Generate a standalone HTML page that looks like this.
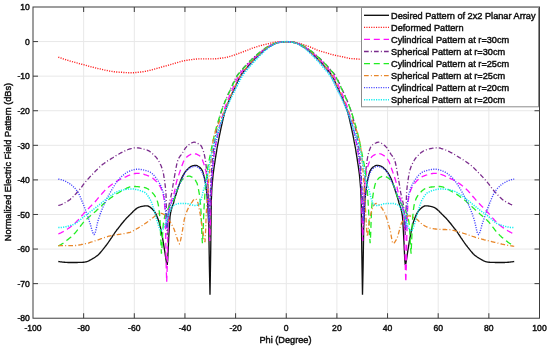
<!DOCTYPE html>
<html><head><meta charset="utf-8"><style>
html,body{margin:0;padding:0;background:#fff;}
svg{display:block;}
.g{stroke:#e8e8e8;stroke-width:1;}
.ax{stroke:#3c3c3c;stroke-width:1;fill:none;}
.tk{font-family:"Liberation Sans",Arial,sans-serif;font-size:8.6px;fill:#111;stroke:#111;stroke-width:0.45px;}
.tl{font-family:"Liberation Sans",Arial,sans-serif;font-weight:normal;font-size:9.2px;fill:#111;stroke:#111;stroke-width:0.45px;}
</style></head><body>
<svg width="550" height="349" viewBox="0 0 550 349">
<defs><clipPath id="c"><rect x="33.0" y="7.0" width="506.50" height="311.22"/></clipPath></defs>
<line x1="83.65" y1="7.0" x2="83.65" y2="318.22" class="g"/>
<line x1="134.30" y1="7.0" x2="134.30" y2="318.22" class="g"/>
<line x1="184.95" y1="7.0" x2="184.95" y2="318.22" class="g"/>
<line x1="235.60" y1="7.0" x2="235.60" y2="318.22" class="g"/>
<line x1="286.25" y1="7.0" x2="286.25" y2="318.22" class="g"/>
<line x1="336.90" y1="7.0" x2="336.90" y2="318.22" class="g"/>
<line x1="387.55" y1="7.0" x2="387.55" y2="318.22" class="g"/>
<line x1="438.20" y1="7.0" x2="438.20" y2="318.22" class="g"/>
<line x1="488.85" y1="7.0" x2="488.85" y2="318.22" class="g"/>
<line x1="33.0" y1="41.58" x2="539.50" y2="41.58" class="g"/>
<line x1="33.0" y1="76.16" x2="539.50" y2="76.16" class="g"/>
<line x1="33.0" y1="110.74" x2="539.50" y2="110.74" class="g"/>
<line x1="33.0" y1="145.32" x2="539.50" y2="145.32" class="g"/>
<line x1="33.0" y1="179.90" x2="539.50" y2="179.90" class="g"/>
<line x1="33.0" y1="214.48" x2="539.50" y2="214.48" class="g"/>
<line x1="33.0" y1="249.06" x2="539.50" y2="249.06" class="g"/>
<line x1="33.0" y1="283.64" x2="539.50" y2="283.64" class="g"/>
<path d="M58.3,261.5 L59.0,261.6 L59.6,261.7 L60.2,261.8 L60.9,261.8 L61.5,261.9 L62.1,262.0 L62.8,262.1 L63.4,262.1 L64.0,262.2 L64.7,262.2 L65.3,262.3 L65.9,262.3 L66.6,262.4 L67.2,262.4 L67.8,262.5 L68.5,262.5 L69.1,262.5 L69.7,262.5 L70.4,262.5 L71.0,262.5 L71.6,262.5 L72.3,262.5 L72.9,262.5 L73.5,262.5 L74.2,262.5 L74.8,262.5 L75.4,262.5 L76.1,262.5 L76.7,262.5 L77.3,262.5 L78.0,262.4 L78.6,262.4 L79.2,262.4 L79.9,262.4 L80.5,262.3 L81.1,262.3 L81.8,262.3 L82.4,262.3 L83.0,262.2 L83.7,262.2 L84.3,262.1 L84.9,262.1 L85.5,261.9 L86.2,261.8 L86.8,261.6 L87.4,261.4 L88.1,261.1 L88.7,260.8 L89.3,260.6 L90.0,260.2 L90.6,259.9 L91.2,259.5 L91.9,259.2 L92.5,258.8 L93.1,258.4 L93.8,258.0 L94.4,257.6 L95.0,257.2 L95.7,256.7 L96.3,256.3 L96.9,255.9 L97.5,255.4 L98.1,254.9 L98.7,254.3 L99.4,253.7 L100.0,253.0 L100.6,252.3 L101.2,251.6 L101.8,250.9 L102.4,250.1 L103.0,249.4 L103.6,248.6 L104.2,247.8 L104.8,247.1 L105.4,246.3 L106.1,245.5 L106.7,244.7 L107.3,243.8 L108.0,242.9 L108.6,242.0 L109.2,241.1 L109.9,240.2 L110.5,239.2 L111.1,238.3 L111.8,237.3 L112.4,236.3 L113.0,235.4 L113.7,234.5 L114.3,233.5 L114.9,232.6 L115.6,231.7 L116.2,230.9 L116.8,230.0 L117.4,229.2 L118.1,228.5 L118.7,227.7 L119.3,226.9 L119.9,226.1 L120.5,225.3 L121.1,224.5 L121.7,223.8 L122.3,223.0 L123.0,222.3 L123.6,221.5 L124.2,220.8 L124.8,220.1 L125.4,219.4 L126.0,218.7 L126.6,218.1 L127.2,217.4 L127.9,216.8 L128.5,216.2 L129.1,215.6 L129.7,214.9 L130.4,214.3 L131.0,213.7 L131.6,213.0 L132.3,212.4 L132.9,211.7 L133.5,211.1 L134.2,210.5 L134.8,209.9 L135.4,209.4 L136.1,208.9 L136.7,208.4 L137.3,208.0 L138.0,207.6 L138.6,207.3 L139.2,207.1 L139.9,206.9 L140.5,206.7 L141.1,206.6 L141.7,206.4 L142.4,206.3 L143.0,206.2 L143.6,206.1 L144.2,206.0 L144.8,205.9 L145.5,205.9 L146.1,205.8 L146.7,205.8 L147.3,205.9 L148.0,206.0 L148.6,206.3 L149.2,206.6 L149.8,207.0 L150.4,207.4 L151.1,208.0 L151.7,208.5 L152.3,209.1 L152.9,209.7 L153.5,210.3 L154.2,211.1 L154.8,212.0 L155.4,213.1 L156.1,214.4 L156.7,215.8 L157.3,217.3 L158.0,219.0 L158.6,220.7 L159.2,222.4 L159.7,224.5 L160.3,226.8 L160.8,229.2 L161.4,231.9 L161.9,234.5 L162.5,237.5 L163.0,240.7 L163.6,244.1 L164.1,247.5 L164.7,250.8 L165.3,255.0 L166.0,259.7 L166.6,263.4 L167.2,265.0 L167.7,260.1 L168.2,249.4 L168.7,238.7 L169.4,226.0 L170.0,216.6 L170.6,212.9 L171.2,210.2 L171.8,208.1 L172.4,206.3 L173.0,204.6 L173.6,202.7 L174.1,200.6 L174.7,198.6 L175.3,196.6 L175.9,194.7 L176.5,192.8 L177.1,191.0 L177.7,189.0 L178.4,187.1 L179.0,185.2 L179.6,183.4 L180.3,181.6 L180.9,180.0 L181.5,178.5 L182.2,177.1 L182.8,175.9 L183.4,174.8 L184.1,173.7 L184.7,172.7 L185.3,171.8 L186.0,171.0 L186.6,170.2 L187.2,169.5 L187.8,169.0 L188.4,168.4 L188.9,167.9 L189.5,167.4 L190.1,167.0 L190.6,166.6 L191.2,166.3 L191.8,166.1 L192.4,165.9 L193.1,165.7 L193.7,165.6 L194.3,165.5 L195.0,165.4 L195.6,165.4 L196.2,165.4 L196.9,165.6 L197.5,165.9 L198.1,166.3 L198.8,166.7 L199.4,167.1 L200.0,167.6 L200.6,168.2 L201.2,168.9 L201.8,169.8 L202.4,170.9 L202.9,172.2 L203.4,173.9 L203.9,175.9 L204.5,178.2 L205.0,180.6 L205.5,183.4 L206.0,186.6 L206.5,190.3 L207.1,196.0 L207.7,204.1 L208.2,214.0 L208.8,228.3 L209.4,266.6 L210.0,294.7 L210.7,251.9 L211.3,200.6 L211.9,187.7 L212.6,179.9 L213.1,174.5 L213.7,170.1 L214.2,166.3 L214.8,162.7 L215.3,159.2 L215.9,155.4 L216.5,151.9 L217.0,148.5 L217.6,145.3 L218.3,141.9 L218.9,138.5 L219.5,135.3 L220.2,132.2 L220.8,129.2 L221.4,126.3 L222.1,123.4 L222.7,120.6 L223.3,117.9 L224.0,115.3 L224.6,112.9 L225.2,110.7 L225.8,109.0 L226.4,107.4 L226.9,105.9 L227.5,104.4 L228.1,103.0 L228.6,101.7 L229.2,100.3 L229.8,99.0 L230.4,97.5 L231.0,96.1 L231.6,94.7 L232.2,93.3 L232.9,92.0 L233.5,90.6 L234.1,89.3 L234.7,87.9 L235.3,86.6 L235.9,85.2 L236.6,83.8 L237.2,82.4 L237.8,81.0 L238.4,79.7 L239.1,78.4 L239.7,77.3 L240.3,76.1 L240.9,75.1 L241.5,74.2 L242.1,73.3 L242.8,72.5 L243.4,71.8 L244.0,71.0 L244.6,70.3 L245.2,69.6 L245.8,68.8 L246.5,68.1 L247.1,67.4 L247.7,66.6 L248.4,65.9 L249.0,65.2 L249.6,64.5 L250.2,63.7 L250.9,63.0 L251.5,62.4 L252.1,61.7 L252.7,61.0 L253.4,60.3 L254.0,59.7 L254.6,59.1 L255.2,58.4 L255.9,57.8 L256.5,57.2 L257.1,56.6 L257.8,56.0 L258.4,55.4 L259.0,54.8 L259.7,54.2 L260.3,53.6 L260.9,53.0 L261.6,52.5 L262.2,51.9 L262.8,51.4 L263.5,50.8 L264.1,50.3 L264.7,49.8 L265.4,49.3 L266.0,48.8 L266.6,48.4 L267.3,47.9 L267.9,47.5 L268.5,47.1 L269.2,46.7 L269.8,46.3 L270.4,46.0 L271.1,45.6 L271.7,45.2 L272.3,44.9 L273.0,44.5 L273.6,44.2 L274.2,43.9 L274.9,43.6 L275.5,43.4 L276.1,43.1 L276.8,42.9 L277.4,42.8 L278.0,42.7 L278.7,42.5 L279.3,42.4 L279.9,42.3 L280.6,42.2 L281.2,42.0 L281.8,41.9 L282.5,41.9 L283.1,41.8 L283.7,41.7 L284.4,41.7 L285.0,41.6 L285.6,41.6 L286.2,41.6 L286.9,41.6 L287.5,41.6 L288.1,41.7 L288.8,41.7 L289.4,41.8 L290.0,41.9 L290.7,41.9 L291.3,42.0 L291.9,42.2 L292.6,42.3 L293.2,42.4 L293.8,42.5 L294.5,42.7 L295.1,42.8 L295.7,42.9 L296.4,43.1 L297.0,43.4 L297.6,43.6 L298.3,43.9 L298.9,44.2 L299.5,44.5 L300.2,44.9 L300.8,45.2 L301.4,45.6 L302.1,46.0 L302.7,46.3 L303.3,46.7 L304.0,47.1 L304.6,47.5 L305.2,47.9 L305.9,48.4 L306.5,48.8 L307.1,49.3 L307.8,49.8 L308.4,50.3 L309.0,50.8 L309.7,51.4 L310.3,51.9 L310.9,52.5 L311.6,53.0 L312.2,53.6 L312.8,54.2 L313.5,54.8 L314.1,55.4 L314.7,56.0 L315.4,56.6 L316.0,57.2 L316.6,57.8 L317.3,58.4 L317.9,59.1 L318.5,59.7 L319.1,60.3 L319.8,61.0 L320.4,61.7 L321.0,62.4 L321.6,63.0 L322.3,63.7 L322.9,64.5 L323.5,65.2 L324.1,65.9 L324.8,66.6 L325.4,67.4 L326.0,68.1 L326.7,68.8 L327.3,69.6 L327.9,70.3 L328.5,71.0 L329.1,71.8 L329.7,72.5 L330.4,73.3 L331.0,74.2 L331.6,75.1 L332.2,76.1 L332.8,77.3 L333.4,78.4 L334.1,79.7 L334.7,81.0 L335.3,82.4 L335.9,83.8 L336.6,85.2 L337.2,86.6 L337.8,87.9 L338.4,89.3 L339.0,90.6 L339.6,92.0 L340.3,93.3 L340.9,94.7 L341.5,96.1 L342.1,97.5 L342.7,99.0 L343.3,100.3 L343.9,101.7 L344.4,103.0 L345.0,104.4 L345.6,105.9 L346.1,107.4 L346.7,109.0 L347.3,110.7 L347.9,112.9 L348.5,115.3 L349.2,117.9 L349.8,120.6 L350.4,123.4 L351.1,126.3 L351.7,129.2 L352.3,132.2 L353.0,135.3 L353.6,138.5 L354.2,141.9 L354.9,145.3 L355.5,148.5 L356.0,151.9 L356.6,155.4 L357.2,159.2 L357.7,162.7 L358.3,166.3 L358.8,170.1 L359.4,174.5 L359.9,179.9 L360.6,187.7 L361.2,200.6 L361.8,251.9 L362.5,294.7 L363.1,266.6 L363.7,228.3 L364.3,214.0 L364.8,204.1 L365.4,196.0 L366.0,190.3 L366.5,186.6 L367.0,183.4 L367.5,180.6 L368.0,178.2 L368.6,175.9 L369.1,173.9 L369.6,172.2 L370.1,170.9 L370.7,169.8 L371.3,168.9 L371.9,168.2 L372.5,167.6 L373.1,167.1 L373.7,166.7 L374.4,166.3 L375.0,165.9 L375.6,165.6 L376.3,165.4 L376.9,165.4 L377.5,165.4 L378.2,165.5 L378.8,165.6 L379.4,165.7 L380.1,165.9 L380.7,166.1 L381.3,166.3 L381.9,166.6 L382.4,167.0 L383.0,167.4 L383.6,167.9 L384.1,168.4 L384.7,169.0 L385.3,169.5 L385.9,170.2 L386.5,171.0 L387.2,171.8 L387.8,172.7 L388.4,173.7 L389.1,174.8 L389.7,175.9 L390.3,177.1 L391.0,178.5 L391.6,180.0 L392.2,181.6 L392.9,183.4 L393.5,185.2 L394.1,187.1 L394.8,189.0 L395.4,191.0 L396.0,192.8 L396.6,194.7 L397.2,196.6 L397.8,198.6 L398.4,200.6 L398.9,202.7 L399.5,204.6 L400.1,206.3 L400.7,208.1 L401.3,210.2 L401.9,212.9 L402.5,216.6 L403.1,226.0 L403.8,238.7 L404.3,249.4 L404.8,260.1 L405.3,265.0 L405.9,263.4 L406.5,259.7 L407.2,255.0 L407.8,250.8 L408.4,247.5 L408.9,244.1 L409.5,240.7 L410.0,237.5 L410.6,234.5 L411.1,231.9 L411.7,229.2 L412.2,226.8 L412.8,224.5 L413.3,222.4 L413.9,220.7 L414.5,219.0 L415.2,217.3 L415.8,215.8 L416.4,214.4 L417.1,213.1 L417.7,212.0 L418.3,211.1 L419.0,210.3 L419.6,209.7 L420.2,209.1 L420.8,208.5 L421.4,208.0 L422.1,207.4 L422.7,207.0 L423.3,206.6 L423.9,206.3 L424.5,206.0 L425.2,205.9 L425.8,205.8 L426.4,205.8 L427.0,205.9 L427.7,205.9 L428.3,206.0 L428.9,206.1 L429.5,206.2 L430.1,206.3 L430.8,206.4 L431.4,206.6 L432.0,206.7 L432.6,206.9 L433.3,207.1 L433.9,207.3 L434.5,207.6 L435.2,208.0 L435.8,208.4 L436.4,208.9 L437.1,209.4 L437.7,209.9 L438.3,210.5 L439.0,211.1 L439.6,211.7 L440.2,212.4 L440.9,213.0 L441.5,213.7 L442.1,214.3 L442.8,214.9 L443.4,215.6 L444.0,216.2 L444.6,216.8 L445.3,217.4 L445.9,218.1 L446.5,218.7 L447.1,219.4 L447.7,220.1 L448.3,220.8 L448.9,221.5 L449.5,222.3 L450.2,223.0 L450.8,223.8 L451.4,224.5 L452.0,225.3 L452.6,226.1 L453.2,226.9 L453.8,227.7 L454.4,228.5 L455.1,229.2 L455.7,230.0 L456.3,230.9 L456.9,231.7 L457.6,232.6 L458.2,233.5 L458.8,234.5 L459.5,235.4 L460.1,236.3 L460.7,237.3 L461.4,238.3 L462.0,239.2 L462.6,240.2 L463.3,241.1 L463.9,242.0 L464.5,242.9 L465.2,243.8 L465.8,244.7 L466.4,245.5 L467.1,246.3 L467.7,247.1 L468.3,247.8 L468.9,248.6 L469.5,249.4 L470.1,250.1 L470.7,250.9 L471.3,251.6 L471.9,252.3 L472.5,253.0 L473.1,253.7 L473.8,254.3 L474.4,254.9 L475.0,255.4 L475.6,255.9 L476.2,256.3 L476.8,256.7 L477.5,257.2 L478.1,257.6 L478.7,258.0 L479.4,258.4 L480.0,258.8 L480.6,259.2 L481.3,259.5 L481.9,259.9 L482.5,260.2 L483.2,260.6 L483.8,260.8 L484.4,261.1 L485.1,261.4 L485.7,261.6 L486.3,261.8 L487.0,261.9 L487.6,262.1 L488.2,262.1 L488.9,262.2 L489.5,262.2 L490.1,262.3 L490.7,262.3 L491.4,262.3 L492.0,262.3 L492.6,262.4 L493.3,262.4 L493.9,262.4 L494.5,262.4 L495.2,262.5 L495.8,262.5 L496.4,262.5 L497.1,262.5 L497.7,262.5 L498.3,262.5 L499.0,262.5 L499.6,262.5 L500.2,262.5 L500.9,262.5 L501.5,262.5 L502.1,262.5 L502.8,262.5 L503.4,262.5 L504.0,262.5 L504.7,262.5 L505.3,262.4 L505.9,262.4 L506.6,262.3 L507.2,262.3 L507.8,262.2 L508.5,262.2 L509.1,262.1 L509.7,262.1 L510.4,262.0 L511.0,261.9 L511.6,261.8 L512.3,261.8 L512.9,261.7 L513.5,261.6 L514.2,261.5" fill="none" stroke="#111111" stroke-width="1.35" clip-path="url(#c)"/>
<path d="M58.3,57.1 L58.9,57.4 L59.5,57.6 L60.1,57.8 L60.8,58.0 L61.4,58.2 L62.0,58.4 L62.6,58.7 L63.2,58.9 L63.8,59.1 L64.4,59.3 L65.0,59.5 L65.6,59.7 L66.2,59.9 L66.8,60.1 L67.4,60.3 L68.1,60.4 L68.7,60.6 L69.3,60.8 L69.9,61.0 L70.6,61.2 L71.2,61.4 L71.8,61.5 L72.4,61.7 L73.1,61.9 L73.7,62.1 L74.3,62.2 L74.9,62.4 L75.5,62.6 L76.2,62.8 L76.8,62.9 L77.4,63.1 L78.0,63.3 L78.7,63.4 L79.3,63.6 L79.9,63.8 L80.5,63.9 L81.2,64.1 L81.8,64.2 L82.4,64.4 L83.0,64.6 L83.7,64.7 L84.3,64.9 L84.9,65.1 L85.5,65.2 L86.1,65.4 L86.7,65.6 L87.3,65.8 L87.9,65.9 L88.6,66.1 L89.2,66.3 L89.8,66.4 L90.4,66.6 L91.0,66.8 L91.6,66.9 L92.2,67.1 L92.9,67.3 L93.5,67.4 L94.1,67.6 L94.7,67.7 L95.3,67.9 L95.9,68.0 L96.5,68.2 L97.2,68.3 L97.8,68.5 L98.4,68.6 L99.0,68.8 L99.6,68.9 L100.2,69.0 L100.8,69.2 L101.4,69.3 L102.1,69.4 L102.7,69.6 L103.3,69.7 L103.9,69.8 L104.5,70.0 L105.1,70.1 L105.8,70.2 L106.4,70.4 L107.0,70.5 L107.6,70.6 L108.2,70.8 L108.8,70.9 L109.4,71.0 L110.1,71.1 L110.7,71.2 L111.3,71.3 L111.9,71.4 L112.5,71.5 L113.1,71.6 L113.8,71.7 L114.4,71.8 L115.0,71.8 L115.6,71.9 L116.2,72.0 L116.8,72.0 L117.4,72.1 L118.0,72.1 L118.7,72.1 L119.3,72.2 L119.9,72.2 L120.5,72.3 L121.1,72.3 L121.7,72.3 L122.3,72.4 L122.9,72.4 L123.6,72.5 L124.2,72.5 L124.8,72.5 L125.4,72.6 L126.0,72.6 L126.6,72.6 L127.2,72.6 L127.8,72.6 L128.5,72.7 L129.1,72.7 L129.7,72.7 L130.3,72.7 L130.9,72.7 L131.5,72.7 L132.1,72.7 L132.7,72.7 L133.4,72.7 L134.0,72.6 L134.6,72.6 L135.2,72.6 L135.8,72.5 L136.4,72.5 L137.0,72.4 L137.6,72.3 L138.3,72.3 L138.9,72.2 L139.5,72.1 L140.1,72.1 L140.7,72.0 L141.3,71.9 L141.9,71.8 L142.6,71.7 L143.2,71.7 L143.8,71.6 L144.4,71.5 L145.0,71.4 L145.7,71.3 L146.3,71.1 L146.9,71.0 L147.6,70.9 L148.2,70.7 L148.8,70.6 L149.4,70.4 L150.1,70.3 L150.7,70.1 L151.3,69.9 L152.0,69.8 L152.6,69.6 L153.2,69.4 L153.8,69.2 L154.5,69.1 L155.1,68.9 L155.7,68.7 L156.3,68.5 L157.0,68.4 L157.6,68.2 L158.2,68.0 L158.8,67.9 L159.4,67.7 L160.0,67.6 L160.7,67.4 L161.3,67.2 L161.9,67.0 L162.5,66.9 L163.1,66.7 L163.7,66.5 L164.3,66.3 L164.9,66.2 L165.6,66.0 L166.2,65.8 L166.8,65.6 L167.4,65.4 L168.0,65.3 L168.6,65.1 L169.2,64.9 L169.8,64.7 L170.5,64.6 L171.1,64.4 L171.7,64.2 L172.3,64.1 L172.9,63.9 L173.5,63.7 L174.2,63.5 L174.8,63.3 L175.4,63.1 L176.1,63.0 L176.7,62.8 L177.3,62.6 L177.9,62.4 L178.6,62.2 L179.2,62.0 L179.8,61.8 L180.4,61.6 L181.1,61.5 L181.7,61.3 L182.3,61.1 L183.0,61.0 L183.6,60.8 L184.2,60.7 L184.8,60.6 L185.5,60.5 L186.1,60.3 L186.7,60.3 L187.4,60.2 L188.0,60.1 L188.6,60.0 L189.2,59.9 L189.9,59.8 L190.5,59.7 L191.1,59.6 L191.7,59.6 L192.4,59.5 L193.0,59.4 L193.6,59.3 L194.3,59.3 L194.9,59.2 L195.5,59.2 L196.1,59.1 L196.8,59.0 L197.4,59.0 L198.0,59.0 L198.6,58.9 L199.3,58.9 L199.9,58.9 L200.5,58.9 L201.2,58.9 L201.8,58.9 L202.4,58.9 L203.0,58.9 L203.6,58.9 L204.2,58.9 L204.8,58.9 L205.4,58.9 L206.1,58.9 L206.7,58.9 L207.3,58.9 L207.9,58.9 L208.5,58.9 L209.1,58.9 L209.7,58.9 L210.4,58.9 L211.0,58.9 L211.6,58.9 L212.2,58.9 L212.8,58.9 L213.4,58.9 L214.0,58.9 L214.7,58.8 L215.3,58.8 L215.9,58.8 L216.5,58.7 L217.1,58.7 L217.7,58.6 L218.3,58.5 L219.0,58.5 L219.6,58.4 L220.2,58.3 L220.8,58.2 L221.4,58.2 L222.0,58.1 L222.6,58.0 L223.3,57.9 L223.9,57.8 L224.5,57.7 L225.1,57.6 L225.7,57.5 L226.3,57.4 L226.9,57.3 L227.6,57.1 L228.2,57.0 L228.8,56.8 L229.4,56.6 L230.0,56.4 L230.6,56.3 L231.2,56.1 L231.8,55.9 L232.4,55.6 L233.1,55.4 L233.7,55.2 L234.3,55.0 L234.9,54.8 L235.5,54.6 L236.1,54.4 L236.7,54.2 L237.4,53.9 L238.0,53.7 L238.6,53.5 L239.3,53.2 L239.9,53.0 L240.5,52.8 L241.2,52.5 L241.8,52.3 L242.4,52.0 L243.1,51.8 L243.7,51.5 L244.3,51.3 L245.0,51.0 L245.6,50.8 L246.2,50.6 L246.8,50.3 L247.5,50.1 L248.1,49.9 L248.7,49.6 L249.3,49.4 L249.9,49.2 L250.5,48.9 L251.1,48.7 L251.7,48.5 L252.3,48.2 L253.0,48.0 L253.6,47.8 L254.2,47.6 L254.8,47.4 L255.4,47.2 L256.0,47.0 L256.6,46.8 L257.2,46.6 L257.8,46.4 L258.5,46.2 L259.1,46.0 L259.7,45.9 L260.3,45.7 L260.9,45.5 L261.5,45.4 L262.1,45.2 L262.7,45.0 L263.3,44.9 L263.9,44.7 L264.6,44.6 L265.2,44.4 L265.8,44.3 L266.4,44.1 L267.0,44.0 L267.6,43.9 L268.2,43.7 L268.8,43.6 L269.4,43.4 L270.1,43.3 L270.7,43.1 L271.3,43.0 L271.9,42.8 L272.5,42.7 L273.1,42.5 L273.7,42.4 L274.3,42.3 L274.9,42.2 L275.6,42.1 L276.2,42.0 L276.8,42.0 L277.4,41.9 L278.0,41.9 L278.7,41.8 L279.3,41.8 L279.9,41.8 L280.6,41.7 L281.2,41.7 L281.8,41.7 L282.5,41.7 L283.1,41.6 L283.7,41.6 L284.4,41.6 L285.0,41.6 L285.6,41.6 L286.2,41.6 L286.9,41.6 L287.5,41.6 L288.1,41.6 L288.7,41.6 L289.4,41.7 L290.0,41.7 L290.6,41.7 L291.2,41.8 L291.8,41.8 L292.5,41.9 L293.1,41.9 L293.7,42.0 L294.3,42.1 L295.0,42.2 L295.6,42.3 L296.2,42.5 L296.8,42.7 L297.5,42.8 L298.1,43.0 L298.7,43.2 L299.3,43.4 L299.9,43.6 L300.6,43.8 L301.2,44.0 L301.8,44.2 L302.4,44.4 L303.0,44.5 L303.6,44.7 L304.2,44.9 L304.8,45.1 L305.4,45.3 L306.0,45.5 L306.6,45.7 L307.2,45.9 L307.8,46.1 L308.4,46.3 L309.0,46.5 L309.5,46.8 L310.2,47.0 L310.8,47.3 L311.4,47.5 L312.0,47.8 L312.7,48.1 L313.3,48.4 L313.9,48.7 L314.5,48.9 L315.2,49.2 L315.8,49.5 L316.4,49.8 L317.0,50.0 L317.7,50.2 L318.3,50.4 L318.9,50.6 L319.5,50.8 L320.1,51.0 L320.8,51.2 L321.4,51.4 L322.0,51.6 L322.6,51.8 L323.3,51.9 L323.9,52.1 L324.5,52.3 L325.1,52.5 L325.8,52.6 L326.4,52.8 L327.0,53.0 L327.5,53.2 L328.1,53.4 L328.7,53.5 L329.3,53.7 L329.9,53.9 L330.5,54.1 L331.1,54.3 L331.7,54.4 L332.3,54.6 L332.9,54.8 L333.5,54.9 L334.1,55.1 L334.7,55.2 L335.4,55.4 L336.0,55.5 L336.6,55.6 L337.2,55.8 L337.9,55.9 L338.5,56.0 L339.1,56.2 L339.7,56.3 L340.3,56.4 L341.0,56.5 L341.6,56.7 L342.2,56.8 L342.8,56.9 L343.4,57.1 L344.0,57.2 L344.6,57.3 L345.2,57.5 L345.8,57.6 L346.4,57.8 L347.0,57.9 L347.6,58.0 L348.2,58.2 L348.8,58.3 L349.4,58.4 L350.0,58.5 L350.6,58.5 L351.2,58.6 L351.8,58.6 L352.4,58.7 L353.0,58.8 L353.6,58.8 L354.2,58.8 L354.8,58.9 L355.4,58.9 L356.0,59.0 L356.6,59.0 L357.2,59.0 L357.8,59.1 L358.4,59.1 L359.0,59.1 L359.6,59.2 L360.2,59.2 L360.8,59.3 L361.4,59.3 L362.0,59.3 L362.6,59.4 L363.3,59.4 L363.9,59.4 L364.5,59.5 L365.1,59.5 L365.7,59.5 L366.3,59.5 L366.9,59.6 L367.5,59.6 L368.2,59.6 L368.8,59.7 L369.4,59.7 L370.0,59.7 L370.6,59.7 L371.2,59.8 L371.8,59.8 L372.4,59.8 L373.1,59.8 L373.7,59.9 L374.3,59.9 L374.9,59.9" fill="none" stroke="#ff1a1a" stroke-width="1.4" stroke-dasharray="1.1 1.3" clip-path="url(#c)"/>
<path d="M58.3,233.8 L59.0,233.6 L59.6,233.4 L60.2,233.1 L60.9,232.8 L61.5,232.5 L62.1,232.2 L62.8,231.9 L63.4,231.5 L64.0,231.2 L64.7,230.8 L65.3,230.4 L65.9,230.0 L66.6,229.6 L67.2,229.2 L67.8,228.8 L68.5,228.3 L69.1,227.9 L69.7,227.4 L70.4,227.0 L71.0,226.5 L71.6,226.0 L72.3,225.5 L72.9,225.0 L73.5,224.5 L74.1,224.0 L74.7,223.5 L75.3,222.9 L75.9,222.3 L76.5,221.7 L77.1,221.0 L77.8,220.4 L78.4,219.7 L79.0,219.0 L79.6,218.3 L80.2,217.6 L80.8,216.9 L81.4,216.2 L82.0,215.5 L82.6,214.8 L83.2,214.1 L83.8,213.4 L84.4,212.8 L85.0,212.1 L85.7,211.4 L86.3,210.8 L86.9,210.1 L87.5,209.5 L88.2,208.8 L88.8,208.2 L89.4,207.5 L90.0,206.9 L90.7,206.2 L91.3,205.6 L91.9,205.0 L92.6,204.3 L93.2,203.6 L93.8,203.0 L94.4,202.3 L95.1,201.7 L95.7,201.0 L96.3,200.3 L96.9,199.6 L97.5,198.9 L98.1,198.2 L98.7,197.5 L99.4,196.8 L100.0,196.0 L100.6,195.3 L101.2,194.6 L101.8,193.9 L102.4,193.2 L103.0,192.5 L103.6,191.8 L104.2,191.1 L104.8,190.5 L105.4,189.9 L106.1,189.3 L106.7,188.8 L107.3,188.2 L108.0,187.6 L108.6,187.1 L109.2,186.6 L109.9,186.0 L110.5,185.6 L111.1,185.1 L111.8,184.6 L112.4,184.1 L113.0,183.7 L113.6,183.3 L114.2,182.9 L114.8,182.5 L115.4,182.1 L116.0,181.8 L116.6,181.4 L117.2,181.0 L117.8,180.7 L118.4,180.4 L119.0,180.0 L119.6,179.7 L120.2,179.4 L120.8,179.1 L121.4,178.9 L122.0,178.6 L122.6,178.3 L123.2,178.0 L123.8,177.7 L124.5,177.4 L125.1,177.1 L125.7,176.9 L126.3,176.6 L126.9,176.3 L127.5,176.0 L128.1,175.7 L128.7,175.5 L129.4,175.2 L130.0,175.0 L130.6,174.7 L131.2,174.5 L131.8,174.3 L132.4,174.1 L133.0,173.9 L133.7,173.8 L134.3,173.7 L134.9,173.5 L135.5,173.5 L136.1,173.4 L136.7,173.3 L137.3,173.3 L138.0,173.3 L138.6,173.4 L139.2,173.4 L139.8,173.5 L140.4,173.6 L141.0,173.7 L141.6,173.8 L142.2,173.9 L142.9,174.1 L143.5,174.2 L144.1,174.4 L144.7,174.6 L145.3,174.8 L145.9,175.0 L146.5,175.2 L147.1,175.4 L147.8,175.6 L148.4,175.9 L149.0,176.1 L149.6,176.3 L150.2,176.6 L150.8,177.0 L151.4,177.3 L152.0,177.7 L152.6,178.1 L153.2,178.6 L153.9,179.1 L154.5,179.7 L155.1,180.3 L155.7,180.9 L156.3,181.5 L156.9,182.2 L157.5,182.9 L158.1,183.7 L158.7,184.5 L159.3,185.4 L160.0,186.3 L160.6,187.4 L161.2,188.7 L161.8,190.3 L162.4,192.1 L163.1,194.3 L163.7,196.8 L164.2,200.4 L164.7,206.3 L165.2,214.5 L165.7,236.1 L166.2,266.5 L166.7,281.9 L167.2,267.6 L167.7,239.9 L168.2,221.4 L168.8,215.3 L169.3,210.8 L169.9,207.4 L170.5,204.8 L171.0,202.4 L171.6,200.3 L172.1,198.6 L172.7,197.2 L173.2,195.7 L173.8,194.2 L174.3,192.3 L174.9,189.9 L175.5,187.0 L176.0,184.1 L176.6,181.6 L177.1,179.9 L177.6,178.3 L178.1,176.9 L178.6,175.4 L179.2,173.6 L179.8,171.9 L180.4,170.2 L181.0,168.5 L181.6,166.8 L182.2,165.0 L182.8,163.4 L183.3,162.0 L183.9,160.9 L184.5,160.0 L185.1,159.1 L185.7,158.3 L186.3,157.6 L186.8,157.0 L187.4,156.5 L188.0,156.0 L188.6,155.6 L189.2,155.2 L189.8,154.9 L190.5,154.5 L191.1,154.2 L191.7,154.0 L192.3,153.8 L192.9,153.7 L193.6,153.6 L194.2,153.6 L194.8,153.7 L195.4,153.9 L196.0,154.0 L196.7,154.2 L197.3,154.5 L197.9,154.8 L198.5,155.2 L199.2,155.5 L199.8,155.9 L200.4,156.4 L201.0,157.1 L201.7,158.2 L202.3,159.6 L202.9,161.3 L203.6,163.1 L204.2,165.0 L204.8,166.8 L205.3,168.9 L205.9,171.3 L206.4,174.2 L207.0,177.8 L207.5,182.3 L208.0,188.7 L208.5,197.2 L209.1,222.1 L209.8,241.1 L210.4,221.0 L211.0,193.7 L211.6,182.0 L212.2,173.0 L212.8,166.1 L213.4,160.7 L213.9,156.1 L214.5,152.1 L215.0,148.5 L215.6,145.3 L216.2,142.1 L216.8,139.0 L217.4,136.0 L218.0,133.2 L218.6,130.6 L219.2,128.0 L219.8,125.6 L220.4,123.2 L221.0,121.0 L221.6,118.8 L222.2,116.7 L222.8,114.7 L223.4,112.7 L224.0,110.7 L224.6,108.8 L225.2,107.0 L225.8,105.3 L226.4,103.7 L227.0,102.1 L227.7,100.5 L228.3,99.0 L228.9,97.5 L229.4,96.1 L230.0,94.7 L230.6,93.3 L231.2,92.0 L231.8,90.6 L232.4,89.3 L233.0,87.9 L233.6,86.5 L234.2,85.1 L234.8,83.7 L235.4,82.3 L236.0,81.0 L236.6,79.7 L237.3,78.4 L237.9,77.2 L238.5,76.1 L239.1,75.1 L239.7,74.2 L240.3,73.3 L240.9,72.5 L241.6,71.8 L242.2,71.0 L242.8,70.3 L243.4,69.6 L244.0,68.9 L244.6,68.2 L245.2,67.5 L245.9,66.8 L246.5,66.1 L247.1,65.4 L247.7,64.7 L248.3,64.0 L248.9,63.4 L249.5,62.7 L250.1,62.1 L250.7,61.4 L251.3,60.8 L251.9,60.2 L252.5,59.6 L253.1,59.0 L253.7,58.4 L254.3,57.8 L254.9,57.3 L255.5,56.7 L256.2,56.2 L256.8,55.6 L257.4,55.1 L258.0,54.5 L258.6,54.0 L259.2,53.4 L259.8,52.9 L260.4,52.4 L261.0,51.9 L261.6,51.4 L262.2,50.9 L262.8,50.4 L263.4,50.0 L264.0,49.5 L264.6,49.1 L265.2,48.7 L265.8,48.2 L266.4,47.8 L267.0,47.5 L267.6,47.1 L268.3,46.8 L268.9,46.4 L269.5,46.0 L270.1,45.7 L270.7,45.3 L271.4,45.0 L272.0,44.7 L272.6,44.4 L273.2,44.1 L273.8,43.8 L274.5,43.5 L275.1,43.3 L275.7,43.1 L276.3,42.9 L276.9,42.8 L277.6,42.7 L278.2,42.5 L278.8,42.4 L279.4,42.3 L280.0,42.2 L280.7,42.1 L281.3,42.0 L281.9,41.9 L282.5,41.8 L283.1,41.8 L283.8,41.7 L284.4,41.6 L285.0,41.6 L285.6,41.6 L286.2,41.6 L286.9,41.6 L287.5,41.6 L288.1,41.6 L288.7,41.7 L289.4,41.8 L290.0,41.8 L290.6,41.9 L291.2,42.0 L291.8,42.1 L292.5,42.2 L293.1,42.3 L293.7,42.4 L294.3,42.5 L294.9,42.7 L295.6,42.8 L296.2,42.9 L296.8,43.1 L297.4,43.3 L298.0,43.5 L298.7,43.8 L299.3,44.1 L299.9,44.4 L300.5,44.7 L301.1,45.0 L301.8,45.3 L302.4,45.7 L303.0,46.0 L303.6,46.4 L304.2,46.8 L304.9,47.1 L305.5,47.5 L306.1,47.8 L306.7,48.2 L307.3,48.7 L307.9,49.1 L308.5,49.5 L309.1,50.0 L309.7,50.4 L310.3,50.9 L310.9,51.4 L311.5,51.9 L312.1,52.4 L312.7,52.9 L313.3,53.4 L313.9,54.0 L314.5,54.5 L315.1,55.1 L315.7,55.6 L316.3,56.2 L317.0,56.7 L317.6,57.3 L318.2,57.8 L318.8,58.4 L319.4,59.0 L320.0,59.6 L320.6,60.2 L321.2,60.8 L321.8,61.4 L322.4,62.1 L323.0,62.7 L323.6,63.4 L324.2,64.0 L324.8,64.7 L325.4,65.4 L326.0,66.1 L326.6,66.8 L327.3,67.5 L327.9,68.2 L328.5,68.9 L329.1,69.6 L329.7,70.3 L330.3,71.0 L330.9,71.8 L331.6,72.5 L332.2,73.3 L332.8,74.2 L333.4,75.1 L334.0,76.1 L334.6,77.2 L335.2,78.4 L335.9,79.7 L336.5,81.0 L337.1,82.3 L337.7,83.7 L338.3,85.1 L338.9,86.5 L339.5,87.9 L340.1,89.3 L340.7,90.6 L341.3,92.0 L341.9,93.3 L342.5,94.7 L343.1,96.1 L343.6,97.5 L344.2,99.0 L344.8,100.5 L345.5,102.1 L346.1,103.7 L346.7,105.3 L347.3,107.0 L347.9,108.8 L348.5,110.7 L349.1,112.7 L349.7,114.7 L350.3,116.7 L350.9,118.8 L351.5,121.0 L352.1,123.2 L352.7,125.6 L353.3,128.0 L353.9,130.6 L354.5,133.2 L355.1,136.0 L355.7,139.0 L356.3,142.1 L356.9,145.3 L357.5,148.5 L358.0,152.1 L358.6,156.1 L359.1,160.7 L359.7,166.1 L360.3,173.0 L360.9,182.0 L361.5,193.7 L362.1,221.0 L362.7,241.1 L363.4,222.1 L364.0,197.2 L364.5,188.7 L365.0,182.3 L365.5,177.8 L366.1,174.2 L366.6,171.3 L367.2,168.9 L367.7,166.8 L368.3,165.0 L368.9,163.1 L369.6,161.3 L370.2,159.6 L370.8,158.2 L371.5,157.1 L372.1,156.4 L372.7,155.9 L373.3,155.5 L374.0,155.2 L374.6,154.8 L375.2,154.5 L375.8,154.2 L376.5,154.0 L377.1,153.9 L377.7,153.7 L378.3,153.6 L378.9,153.6 L379.6,153.7 L380.2,153.8 L380.8,154.0 L381.4,154.2 L382.0,154.5 L382.7,154.9 L383.3,155.2 L383.9,155.6 L384.5,156.0 L385.1,156.5 L385.7,157.0 L386.2,157.6 L386.8,158.3 L387.4,159.1 L388.0,160.0 L388.6,160.9 L389.2,162.0 L389.7,163.4 L390.3,165.0 L390.9,166.8 L391.5,168.5 L392.1,170.2 L392.7,171.9 L393.3,173.6 L393.9,175.4 L394.4,176.9 L394.9,178.3 L395.4,179.9 L395.9,181.6 L396.5,184.1 L397.0,187.0 L397.6,189.9 L398.2,192.3 L398.7,194.2 L399.3,195.7 L399.8,197.2 L400.4,198.6 L400.9,200.3 L401.5,202.4 L402.0,204.8 L402.6,207.4 L403.2,210.8 L403.7,215.3 L404.3,221.4 L404.8,239.9 L405.3,267.6 L405.8,281.9 L406.3,266.5 L406.8,236.1 L407.3,214.5 L407.8,206.3 L408.3,200.4 L408.8,196.8 L409.4,194.3 L410.1,192.1 L410.7,190.3 L411.3,188.7 L411.9,187.4 L412.5,186.3 L413.2,185.4 L413.8,184.5 L414.4,183.7 L415.0,182.9 L415.6,182.2 L416.2,181.5 L416.8,180.9 L417.4,180.3 L418.0,179.7 L418.6,179.1 L419.3,178.6 L419.9,178.1 L420.5,177.7 L421.1,177.3 L421.7,177.0 L422.3,176.6 L422.9,176.3 L423.5,176.1 L424.1,175.9 L424.7,175.6 L425.4,175.4 L426.0,175.2 L426.6,175.0 L427.2,174.8 L427.8,174.6 L428.4,174.4 L429.0,174.2 L429.6,174.1 L430.3,173.9 L430.9,173.8 L431.5,173.7 L432.1,173.6 L432.7,173.5 L433.3,173.4 L433.9,173.4 L434.5,173.3 L435.2,173.3 L435.8,173.3 L436.4,173.4 L437.0,173.5 L437.6,173.5 L438.2,173.7 L438.8,173.8 L439.5,173.9 L440.1,174.1 L440.7,174.3 L441.3,174.5 L441.9,174.7 L442.5,175.0 L443.1,175.2 L443.8,175.5 L444.4,175.7 L445.0,176.0 L445.6,176.3 L446.2,176.6 L446.8,176.9 L447.4,177.1 L448.0,177.4 L448.7,177.7 L449.3,178.0 L449.9,178.3 L450.5,178.6 L451.1,178.9 L451.7,179.1 L452.3,179.4 L452.9,179.7 L453.5,180.0 L454.1,180.4 L454.7,180.7 L455.3,181.0 L455.9,181.4 L456.5,181.8 L457.1,182.1 L457.7,182.5 L458.3,182.9 L458.9,183.3 L459.5,183.7 L460.1,184.1 L460.7,184.6 L461.4,185.1 L462.0,185.6 L462.6,186.0 L463.3,186.6 L463.9,187.1 L464.5,187.6 L465.2,188.2 L465.8,188.8 L466.4,189.3 L467.1,189.9 L467.7,190.5 L468.3,191.1 L468.9,191.8 L469.5,192.5 L470.1,193.2 L470.7,193.9 L471.3,194.6 L471.9,195.3 L472.5,196.0 L473.1,196.8 L473.8,197.5 L474.4,198.2 L475.0,198.9 L475.6,199.6 L476.2,200.3 L476.8,201.0 L477.4,201.7 L478.1,202.3 L478.7,203.0 L479.3,203.6 L479.9,204.3 L480.6,205.0 L481.2,205.6 L481.8,206.2 L482.5,206.9 L483.1,207.5 L483.7,208.2 L484.3,208.8 L485.0,209.5 L485.6,210.1 L486.2,210.8 L486.8,211.4 L487.5,212.1 L488.1,212.8 L488.7,213.4 L489.3,214.1 L489.9,214.8 L490.5,215.5 L491.1,216.2 L491.7,216.9 L492.3,217.6 L492.9,218.3 L493.5,219.0 L494.1,219.7 L494.7,220.4 L495.4,221.0 L496.0,221.7 L496.6,222.3 L497.2,222.9 L497.8,223.5 L498.4,224.0 L499.0,224.5 L499.6,225.0 L500.2,225.5 L500.9,226.0 L501.5,226.5 L502.1,227.0 L502.8,227.4 L503.4,227.9 L504.0,228.3 L504.7,228.8 L505.3,229.2 L505.9,229.6 L506.6,230.0 L507.2,230.4 L507.8,230.8 L508.5,231.2 L509.1,231.5 L509.7,231.9 L510.4,232.2 L511.0,232.5 L511.6,232.8 L512.3,233.1 L512.9,233.4 L513.5,233.6 L514.2,233.8" fill="none" stroke="#ff10ff" stroke-width="1.3" stroke-dasharray="6 3.8" clip-path="url(#c)"/>
<path d="M58.3,205.5 L58.9,205.3 L59.5,205.2 L60.1,205.0 L60.7,204.8 L61.3,204.5 L61.9,204.3 L62.5,204.0 L63.1,203.7 L63.7,203.4 L64.3,203.1 L64.9,202.8 L65.5,202.4 L66.1,202.1 L66.7,201.7 L67.3,201.4 L67.9,201.0 L68.6,200.6 L69.2,200.1 L69.8,199.7 L70.4,199.2 L71.0,198.6 L71.7,198.1 L72.3,197.5 L72.9,196.9 L73.5,196.3 L74.1,195.6 L74.7,195.0 L75.4,194.3 L76.0,193.7 L76.6,193.0 L77.2,192.3 L77.8,191.7 L78.4,191.0 L79.0,190.3 L79.6,189.6 L80.2,188.8 L80.8,188.0 L81.4,187.3 L82.0,186.5 L82.6,185.7 L83.1,184.9 L83.7,184.1 L84.3,183.4 L84.9,182.7 L85.5,181.9 L86.1,181.2 L86.7,180.5 L87.3,179.8 L87.9,179.1 L88.5,178.5 L89.1,177.8 L89.7,177.1 L90.3,176.5 L90.9,175.9 L91.5,175.2 L92.1,174.6 L92.7,174.0 L93.3,173.4 L93.9,172.8 L94.5,172.2 L95.0,171.6 L95.6,171.0 L96.2,170.4 L96.9,169.7 L97.5,169.1 L98.1,168.5 L98.7,167.9 L99.3,167.3 L99.9,166.8 L100.4,166.2 L101.0,165.8 L101.6,165.3 L102.2,164.8 L102.8,164.3 L103.4,163.9 L104.0,163.5 L104.6,163.0 L105.2,162.6 L105.8,162.2 L106.4,161.8 L107.0,161.3 L107.6,160.9 L108.3,160.5 L108.9,160.1 L109.5,159.7 L110.1,159.4 L110.7,159.0 L111.3,158.6 L111.9,158.2 L112.6,157.8 L113.2,157.5 L113.8,157.1 L114.4,156.7 L115.1,156.3 L115.7,155.9 L116.3,155.5 L117.0,155.1 L117.6,154.7 L118.2,154.3 L118.9,154.0 L119.5,153.6 L120.1,153.3 L120.8,152.9 L121.4,152.6 L122.0,152.3 L122.6,152.0 L123.2,151.7 L123.8,151.4 L124.4,151.1 L125.0,150.8 L125.6,150.5 L126.2,150.3 L126.8,150.0 L127.4,149.8 L128.0,149.5 L128.6,149.3 L129.2,149.1 L129.8,148.9 L130.4,148.8 L131.0,148.6 L131.6,148.4 L132.1,148.2 L132.7,148.1 L133.3,147.9 L133.9,147.8 L134.5,147.8 L135.1,147.7 L135.7,147.7 L136.3,147.8 L137.0,147.8 L137.6,147.9 L138.2,147.9 L138.9,148.0 L139.5,148.1 L140.1,148.2 L140.8,148.3 L141.4,148.5 L142.0,148.6 L142.7,148.8 L143.3,148.9 L143.9,149.1 L144.6,149.3 L145.2,149.4 L145.8,149.6 L146.5,149.8 L147.1,150.0 L147.7,150.3 L148.3,150.6 L148.9,150.9 L149.5,151.3 L150.1,151.7 L150.7,152.1 L151.3,152.6 L151.9,153.1 L152.5,153.7 L153.1,154.2 L153.7,154.8 L154.4,155.4 L155.0,156.1 L155.6,156.7 L156.2,157.4 L156.8,158.2 L157.4,159.0 L158.1,160.0 L158.7,161.0 L159.3,162.1 L159.9,163.3 L160.5,164.6 L161.2,166.1 L161.8,167.7 L162.4,169.5 L163.0,171.6 L163.6,174.4 L164.1,177.8 L164.7,181.6 L165.3,186.4 L166.0,193.7 L166.6,216.8 L167.2,235.2 L167.9,223.9 L168.5,209.6 L169.0,205.4 L169.6,202.2 L170.1,199.8 L170.7,197.6 L171.2,195.4 L171.8,192.7 L172.4,189.0 L173.0,185.0 L173.7,181.1 L174.3,177.5 L174.9,174.2 L175.5,170.8 L176.1,167.5 L176.7,164.5 L177.3,162.0 L177.9,160.2 L178.4,158.9 L179.0,157.8 L179.6,156.9 L180.1,156.1 L180.7,155.3 L181.3,154.6 L181.8,153.8 L182.4,152.9 L183.0,152.0 L183.5,151.1 L184.1,150.2 L184.6,149.3 L185.2,148.4 L185.7,147.7 L186.3,147.1 L186.9,146.4 L187.6,145.8 L188.2,145.3 L188.8,144.8 L189.4,144.3 L190.0,143.9 L190.6,143.5 L191.3,143.2 L191.9,142.8 L192.5,142.5 L193.2,142.3 L193.8,142.2 L194.4,142.2 L195.0,142.4 L195.7,142.5 L196.3,142.8 L196.9,143.0 L197.5,143.3 L198.1,143.6 L198.7,143.9 L199.3,144.3 L199.9,144.8 L200.6,145.3 L201.2,146.0 L201.8,147.0 L202.4,148.5 L203.1,150.2 L203.7,152.2 L204.3,154.5 L204.9,157.4 L205.5,160.9 L206.1,165.7 L206.7,171.3 L207.2,175.0 L207.7,179.9 L208.1,186.8 L208.5,197.2 L209.1,228.3 L209.7,214.3 L210.3,193.7 L210.9,181.2 L211.5,170.7 L212.0,162.6 L212.7,156.0 L213.3,150.5 L213.9,145.9 L214.6,141.9 L215.2,138.4 L215.7,135.2 L216.3,132.1 L216.9,129.2 L217.5,126.4 L218.1,123.8 L218.6,121.4 L219.2,119.0 L219.8,116.8 L220.4,114.7 L221.0,112.7 L221.6,110.7 L222.1,109.0 L222.7,107.4 L223.2,105.8 L223.8,104.4 L224.4,103.0 L224.9,101.7 L225.5,100.3 L226.1,99.0 L226.7,97.5 L227.3,96.1 L227.9,94.7 L228.5,93.3 L229.2,92.0 L229.8,90.6 L230.4,89.3 L231.0,88.0 L231.6,86.8 L232.2,85.5 L232.7,84.2 L233.3,82.9 L233.9,81.7 L234.5,80.4 L235.1,79.2 L235.7,78.1 L236.3,77.0 L236.8,76.0 L237.4,75.1 L238.0,74.3 L238.6,73.5 L239.1,72.8 L239.7,72.2 L240.3,71.5 L240.8,70.9 L241.4,70.2 L241.9,69.6 L242.6,68.9 L243.2,68.2 L243.8,67.5 L244.5,66.8 L245.1,66.1 L245.7,65.4 L246.4,64.7 L247.0,64.0 L247.6,63.4 L248.2,62.7 L248.9,62.1 L249.5,61.4 L250.1,60.8 L250.8,60.2 L251.4,59.6 L252.0,59.0 L252.6,58.4 L253.3,57.8 L253.9,57.3 L254.5,56.7 L255.2,56.2 L255.8,55.6 L256.4,55.1 L257.0,54.5 L257.6,54.0 L258.3,53.4 L258.9,52.9 L259.5,52.4 L260.1,51.9 L260.8,51.4 L261.4,50.9 L262.0,50.4 L262.6,50.0 L263.3,49.5 L263.9,49.1 L264.5,48.7 L265.1,48.2 L265.8,47.8 L266.4,47.5 L267.0,47.1 L267.6,46.8 L268.2,46.4 L268.8,46.1 L269.4,45.8 L270.0,45.4 L270.6,45.1 L271.2,44.8 L271.8,44.5 L272.4,44.2 L273.0,44.0 L273.6,43.7 L274.2,43.5 L274.8,43.3 L275.4,43.1 L276.0,42.9 L276.6,42.8 L277.2,42.7 L277.8,42.6 L278.4,42.4 L279.0,42.3 L279.6,42.2 L280.2,42.1 L280.8,42.0 L281.4,41.9 L282.0,41.9 L282.6,41.8 L283.2,41.7 L283.8,41.7 L284.4,41.6 L285.0,41.6 L285.6,41.6 L286.2,41.6 L286.9,41.6 L287.5,41.6 L288.1,41.6 L288.7,41.7 L289.3,41.7 L289.9,41.8 L290.5,41.9 L291.1,41.9 L291.7,42.0 L292.3,42.1 L292.9,42.2 L293.5,42.3 L294.1,42.4 L294.7,42.6 L295.3,42.7 L295.9,42.8 L296.5,42.9 L297.1,43.1 L297.7,43.3 L298.3,43.5 L298.9,43.7 L299.5,44.0 L300.1,44.2 L300.7,44.5 L301.3,44.8 L301.9,45.1 L302.5,45.4 L303.1,45.8 L303.7,46.1 L304.3,46.4 L304.9,46.8 L305.5,47.1 L306.1,47.5 L306.7,47.8 L307.4,48.2 L308.0,48.7 L308.6,49.1 L309.2,49.5 L309.9,50.0 L310.5,50.4 L311.1,50.9 L311.7,51.4 L312.4,51.9 L313.0,52.4 L313.6,52.9 L314.2,53.4 L314.9,54.0 L315.5,54.5 L316.1,55.1 L316.7,55.6 L317.3,56.2 L318.0,56.7 L318.6,57.3 L319.2,57.8 L319.9,58.4 L320.5,59.0 L321.1,59.6 L321.7,60.2 L322.4,60.8 L323.0,61.4 L323.6,62.1 L324.3,62.7 L324.9,63.4 L325.5,64.0 L326.1,64.7 L326.8,65.4 L327.4,66.1 L328.0,66.8 L328.7,67.5 L329.3,68.2 L329.9,68.9 L330.6,69.6 L331.1,70.2 L331.7,70.9 L332.2,71.5 L332.8,72.2 L333.4,72.8 L333.9,73.5 L334.5,74.3 L335.1,75.1 L335.7,76.0 L336.2,77.0 L336.8,78.1 L337.4,79.2 L338.0,80.4 L338.6,81.7 L339.2,82.9 L339.8,84.2 L340.3,85.5 L340.9,86.8 L341.5,88.0 L342.1,89.3 L342.7,90.6 L343.3,92.0 L344.0,93.3 L344.6,94.7 L345.2,96.1 L345.8,97.5 L346.4,99.0 L347.0,100.3 L347.6,101.7 L348.1,103.0 L348.7,104.4 L349.3,105.8 L349.8,107.4 L350.4,109.0 L350.9,110.7 L351.5,112.7 L352.1,114.7 L352.7,116.8 L353.3,119.0 L353.9,121.4 L354.4,123.8 L355.0,126.4 L355.6,129.2 L356.2,132.1 L356.8,135.2 L357.3,138.4 L357.9,141.9 L358.6,145.9 L359.2,150.5 L359.8,156.0 L360.5,162.6 L361.0,170.7 L361.6,181.2 L362.2,193.7 L362.8,214.3 L363.4,228.3 L364.0,197.2 L364.4,186.8 L364.8,179.9 L365.3,175.0 L365.8,171.3 L366.4,165.7 L367.0,160.9 L367.6,157.4 L368.2,154.5 L368.8,152.2 L369.4,150.2 L370.1,148.5 L370.7,147.0 L371.3,146.0 L371.9,145.3 L372.6,144.8 L373.2,144.3 L373.8,143.9 L374.4,143.6 L375.0,143.3 L375.6,143.0 L376.2,142.8 L376.8,142.5 L377.5,142.4 L378.1,142.2 L378.7,142.2 L379.3,142.3 L380.0,142.5 L380.6,142.8 L381.2,143.2 L381.9,143.5 L382.5,143.9 L383.1,144.3 L383.7,144.8 L384.3,145.3 L384.9,145.8 L385.6,146.4 L386.2,147.1 L386.8,147.7 L387.3,148.4 L387.9,149.3 L388.4,150.2 L389.0,151.1 L389.5,152.0 L390.1,152.9 L390.7,153.8 L391.2,154.6 L391.8,155.3 L392.4,156.1 L392.9,156.9 L393.5,157.8 L394.1,158.9 L394.6,160.2 L395.2,162.0 L395.8,164.5 L396.4,167.5 L397.0,170.8 L397.6,174.2 L398.2,177.5 L398.8,181.1 L399.5,185.0 L400.1,189.0 L400.7,192.7 L401.3,195.4 L401.8,197.6 L402.4,199.8 L402.9,202.2 L403.5,205.4 L404.0,209.6 L404.6,223.9 L405.3,235.2 L405.9,216.8 L406.5,193.7 L407.2,186.4 L407.8,181.6 L408.4,177.8 L408.9,174.4 L409.5,171.6 L410.1,169.5 L410.7,167.7 L411.3,166.1 L412.0,164.6 L412.6,163.3 L413.2,162.1 L413.8,161.0 L414.4,160.0 L415.1,159.0 L415.7,158.2 L416.3,157.4 L416.9,156.7 L417.5,156.1 L418.1,155.4 L418.8,154.8 L419.4,154.2 L420.0,153.7 L420.6,153.1 L421.2,152.6 L421.8,152.1 L422.4,151.7 L423.0,151.3 L423.6,150.9 L424.2,150.6 L424.8,150.3 L425.4,150.0 L426.0,149.8 L426.7,149.6 L427.3,149.4 L427.9,149.3 L428.6,149.1 L429.2,148.9 L429.8,148.8 L430.5,148.6 L431.1,148.5 L431.7,148.3 L432.4,148.2 L433.0,148.1 L433.6,148.0 L434.3,147.9 L434.9,147.9 L435.5,147.8 L436.2,147.8 L436.8,147.7 L437.4,147.7 L438.0,147.8 L438.6,147.8 L439.2,147.9 L439.8,148.1 L440.4,148.2 L440.9,148.4 L441.5,148.6 L442.1,148.8 L442.7,148.9 L443.3,149.1 L443.9,149.3 L444.5,149.5 L445.1,149.8 L445.7,150.0 L446.3,150.3 L446.9,150.5 L447.5,150.8 L448.1,151.1 L448.7,151.4 L449.3,151.7 L449.9,152.0 L450.5,152.3 L451.1,152.6 L451.7,152.9 L452.4,153.3 L453.0,153.6 L453.6,154.0 L454.3,154.3 L454.9,154.7 L455.5,155.1 L456.2,155.5 L456.8,155.9 L457.4,156.3 L458.1,156.7 L458.7,157.1 L459.3,157.5 L459.9,157.8 L460.6,158.2 L461.2,158.6 L461.8,159.0 L462.4,159.4 L463.0,159.7 L463.6,160.1 L464.2,160.5 L464.9,160.9 L465.5,161.3 L466.1,161.8 L466.7,162.2 L467.3,162.6 L467.9,163.0 L468.5,163.5 L469.1,163.9 L469.7,164.3 L470.3,164.8 L470.9,165.3 L471.5,165.8 L472.1,166.2 L472.6,166.8 L473.2,167.3 L473.8,167.9 L474.4,168.5 L475.0,169.1 L475.6,169.7 L476.3,170.4 L476.9,171.0 L477.5,171.6 L478.0,172.2 L478.6,172.8 L479.2,173.4 L479.8,174.0 L480.4,174.6 L481.0,175.2 L481.6,175.9 L482.2,176.5 L482.8,177.1 L483.4,177.8 L484.0,178.5 L484.6,179.1 L485.2,179.8 L485.8,180.5 L486.4,181.2 L487.0,181.9 L487.6,182.7 L488.2,183.4 L488.8,184.1 L489.4,184.9 L489.9,185.7 L490.5,186.5 L491.1,187.3 L491.7,188.0 L492.3,188.8 L492.9,189.6 L493.5,190.3 L494.1,191.0 L494.7,191.7 L495.3,192.3 L495.9,193.0 L496.5,193.7 L497.1,194.3 L497.8,195.0 L498.4,195.6 L499.0,196.3 L499.6,196.9 L500.2,197.5 L500.8,198.1 L501.5,198.6 L502.1,199.2 L502.7,199.7 L503.3,200.1 L503.9,200.6 L504.6,201.0 L505.2,201.4 L505.8,201.7 L506.4,202.1 L507.0,202.4 L507.6,202.8 L508.2,203.1 L508.8,203.4 L509.4,203.7 L510.0,204.0 L510.6,204.3 L511.2,204.5 L511.8,204.8 L512.4,205.0 L513.0,205.2 L513.6,205.3 L514.2,205.5" fill="none" stroke="#7a2c8c" stroke-width="1.3" stroke-dasharray="4.7 2.15 1 2.15" clip-path="url(#c)"/>
<path d="M58.3,245.9 L59.0,245.6 L59.6,245.3 L60.2,244.9 L60.9,244.6 L61.5,244.2 L62.1,243.8 L62.8,243.4 L63.4,243.0 L64.0,242.5 L64.7,242.1 L65.3,241.6 L65.9,241.1 L66.6,240.6 L67.2,240.1 L67.8,239.6 L68.5,239.1 L69.1,238.5 L69.7,238.0 L70.4,237.4 L71.0,236.9 L71.6,236.3 L72.3,235.7 L72.9,235.1 L73.5,234.5 L74.1,233.9 L74.8,233.3 L75.4,232.6 L76.0,231.9 L76.6,231.1 L77.2,230.3 L77.9,229.5 L78.5,228.7 L79.1,227.9 L79.7,227.1 L80.3,226.3 L80.9,225.5 L81.6,224.7 L82.2,223.9 L82.8,223.1 L83.4,222.4 L84.0,221.7 L84.7,221.1 L85.3,220.4 L85.9,219.8 L86.5,219.2 L87.1,218.7 L87.7,218.1 L88.3,217.5 L89.0,217.0 L89.6,216.5 L90.2,215.9 L90.8,215.4 L91.4,214.9 L92.0,214.4 L92.6,213.9 L93.2,213.3 L93.9,212.8 L94.5,212.3 L95.1,211.8 L95.7,211.2 L96.3,210.7 L96.9,210.1 L97.6,209.5 L98.2,208.9 L98.8,208.3 L99.5,207.7 L100.1,207.1 L100.7,206.5 L101.4,205.9 L102.0,205.3 L102.6,204.7 L103.3,204.1 L103.9,203.6 L104.5,203.0 L105.2,202.4 L105.8,201.9 L106.4,201.3 L107.1,200.8 L107.7,200.3 L108.3,199.8 L109.0,199.3 L109.6,198.8 L110.2,198.3 L110.9,197.8 L111.5,197.4 L112.1,196.9 L112.8,196.4 L113.4,196.0 L114.0,195.5 L114.7,195.1 L115.3,194.6 L115.9,194.2 L116.6,193.8 L117.2,193.4 L117.8,193.1 L118.5,192.7 L119.1,192.3 L119.7,192.0 L120.4,191.7 L121.0,191.3 L121.6,190.9 L122.3,190.6 L122.9,190.2 L123.5,189.8 L124.2,189.5 L124.8,189.1 L125.4,188.8 L126.1,188.5 L126.7,188.2 L127.3,187.9 L128.0,187.6 L128.6,187.4 L129.2,187.1 L129.9,186.9 L130.5,186.8 L131.1,186.6 L131.8,186.6 L132.4,186.5 L133.0,186.5 L133.7,186.5 L134.3,186.5 L134.9,186.5 L135.6,186.5 L136.2,186.6 L136.8,186.6 L137.5,186.6 L138.1,186.7 L138.7,186.8 L139.4,186.8 L140.0,186.9 L140.6,187.0 L141.3,187.0 L141.9,187.1 L142.5,187.2 L143.2,187.3 L143.8,187.4 L144.4,187.5 L145.1,187.6 L145.7,187.8 L146.3,188.1 L146.9,188.4 L147.6,188.7 L148.2,189.1 L148.8,189.6 L149.4,190.0 L150.1,190.6 L150.7,191.1 L151.3,191.7 L151.9,192.3 L152.6,193.0 L153.2,193.7 L153.8,194.4 L154.4,195.2 L155.0,196.1 L155.6,197.1 L156.3,198.4 L156.9,199.9 L157.5,201.6 L158.1,203.8 L158.6,206.3 L159.1,210.1 L159.6,215.2 L160.1,221.4 L160.8,239.6 L161.4,253.6 L162.0,247.1 L162.6,234.2 L163.2,224.9 L163.7,221.3 L164.3,218.4 L164.8,216.1 L165.4,214.3 L166.0,212.8 L166.6,211.2 L167.2,209.9 L167.9,208.8 L168.5,207.8 L169.1,206.8 L169.8,205.8 L170.3,204.9 L170.9,204.1 L171.5,203.4 L172.0,202.6 L172.6,201.8 L173.2,201.0 L173.7,200.0 L174.3,198.9 L174.9,197.4 L175.5,195.5 L176.1,193.4 L176.7,191.4 L177.4,189.6 L178.0,187.9 L178.6,186.3 L179.2,184.8 L179.8,183.4 L180.4,182.3 L181.0,181.5 L181.5,180.7 L182.1,179.9 L182.7,179.3 L183.3,178.7 L183.9,178.2 L184.4,177.8 L185.1,177.5 L185.7,177.1 L186.3,176.8 L186.9,176.5 L187.5,176.3 L188.1,176.1 L188.7,176.1 L189.3,176.1 L189.8,176.2 L190.4,176.4 L190.9,176.6 L191.5,176.9 L192.0,177.1 L192.6,177.4 L193.2,177.8 L193.8,178.3 L194.3,178.9 L194.9,179.6 L195.5,180.4 L196.0,181.3 L196.6,182.3 L197.2,183.7 L197.7,185.7 L198.3,188.2 L198.8,191.1 L199.4,194.4 L199.9,198.2 L200.4,203.1 L200.9,209.3 L201.4,221.1 L201.9,235.9 L202.4,243.2 L203.1,231.8 L203.7,214.5 L204.2,205.3 L204.7,197.1 L205.2,190.3 L205.8,183.4 L206.5,177.4 L207.1,172.3 L207.7,167.8 L208.4,164.1 L209.0,160.9 L209.6,158.0 L210.2,155.2 L210.8,152.2 L211.3,149.4 L211.9,146.5 L212.5,143.6 L213.0,140.9 L213.6,138.4 L214.2,135.9 L214.8,133.4 L215.4,131.0 L216.0,128.7 L216.6,126.5 L217.3,124.3 L217.9,122.2 L218.5,120.2 L219.1,118.2 L219.7,116.3 L220.3,114.4 L220.9,112.5 L221.6,110.7 L222.1,109.1 L222.7,107.5 L223.3,106.0 L223.9,104.5 L224.5,103.1 L225.0,101.7 L225.6,100.3 L226.2,99.0 L226.7,97.7 L227.3,96.4 L227.9,95.2 L228.4,94.0 L229.0,92.8 L229.5,91.6 L230.1,90.5 L230.6,89.3 L231.2,88.0 L231.8,86.8 L232.4,85.5 L233.0,84.2 L233.6,82.9 L234.2,81.7 L234.8,80.4 L235.4,79.3 L236.0,78.1 L236.5,77.1 L237.1,76.0 L237.7,75.1 L238.3,74.3 L238.9,73.6 L239.4,72.8 L240.0,72.2 L240.6,71.5 L241.1,70.9 L241.7,70.2 L242.3,69.6 L242.9,68.9 L243.5,68.2 L244.2,67.5 L244.8,66.8 L245.4,66.1 L246.0,65.4 L246.7,64.7 L247.3,64.0 L247.9,63.4 L248.6,62.7 L249.2,62.1 L249.8,61.4 L250.4,60.8 L251.1,60.2 L251.7,59.6 L252.3,59.0 L253.0,58.4 L253.6,57.8 L254.2,57.3 L254.8,56.7 L255.4,56.2 L256.1,55.6 L256.7,55.1 L257.3,54.5 L257.9,54.0 L258.5,53.5 L259.1,52.9 L259.8,52.4 L260.4,51.9 L261.0,51.4 L261.6,50.9 L262.2,50.4 L262.9,50.0 L263.5,49.5 L264.1,49.1 L264.7,48.7 L265.3,48.2 L266.0,47.8 L266.6,47.5 L267.2,47.1 L267.8,46.8 L268.4,46.4 L269.0,46.1 L269.6,45.8 L270.2,45.4 L270.8,45.1 L271.4,44.8 L272.0,44.5 L272.6,44.2 L273.1,44.0 L273.7,43.7 L274.3,43.5 L274.9,43.3 L275.5,43.1 L276.1,42.9 L276.7,42.8 L277.3,42.7 L277.9,42.6 L278.5,42.4 L279.1,42.3 L279.7,42.2 L280.3,42.1 L280.9,42.0 L281.5,41.9 L282.1,41.9 L282.7,41.8 L283.3,41.7 L283.9,41.7 L284.5,41.6 L285.1,41.6 L285.7,41.6 L286.2,41.6 L286.8,41.6 L287.4,41.6 L288.0,41.6 L288.6,41.7 L289.2,41.7 L289.8,41.8 L290.4,41.9 L291.0,41.9 L291.6,42.0 L292.2,42.1 L292.8,42.2 L293.4,42.3 L294.0,42.4 L294.6,42.6 L295.2,42.7 L295.8,42.8 L296.4,42.9 L297.0,43.1 L297.6,43.3 L298.2,43.5 L298.8,43.7 L299.4,44.0 L299.9,44.2 L300.5,44.5 L301.1,44.8 L301.7,45.1 L302.3,45.4 L302.9,45.8 L303.5,46.1 L304.1,46.4 L304.7,46.8 L305.3,47.1 L305.9,47.5 L306.5,47.8 L307.2,48.2 L307.8,48.7 L308.4,49.1 L309.0,49.5 L309.6,50.0 L310.3,50.4 L310.9,50.9 L311.5,51.4 L312.1,51.9 L312.7,52.4 L313.4,52.9 L314.0,53.5 L314.6,54.0 L315.2,54.5 L315.8,55.1 L316.4,55.6 L317.1,56.2 L317.7,56.7 L318.3,57.3 L318.9,57.8 L319.5,58.4 L320.2,59.0 L320.8,59.6 L321.4,60.2 L322.1,60.8 L322.7,61.4 L323.3,62.1 L323.9,62.7 L324.6,63.4 L325.2,64.0 L325.8,64.7 L326.5,65.4 L327.1,66.1 L327.7,66.8 L328.3,67.5 L329.0,68.2 L329.6,68.9 L330.2,69.6 L330.8,70.2 L331.4,70.9 L331.9,71.5 L332.5,72.2 L333.1,72.8 L333.6,73.6 L334.2,74.3 L334.8,75.1 L335.4,76.0 L336.0,77.1 L336.5,78.1 L337.1,79.3 L337.7,80.4 L338.3,81.7 L338.9,82.9 L339.5,84.2 L340.1,85.5 L340.7,86.8 L341.3,88.0 L341.9,89.3 L342.4,90.5 L343.0,91.6 L343.5,92.8 L344.1,94.0 L344.6,95.2 L345.2,96.4 L345.8,97.7 L346.3,99.0 L346.9,100.3 L347.5,101.7 L348.0,103.1 L348.6,104.5 L349.2,106.0 L349.8,107.5 L350.4,109.1 L350.9,110.7 L351.6,112.5 L352.2,114.4 L352.8,116.3 L353.4,118.2 L354.0,120.2 L354.6,122.2 L355.2,124.3 L355.9,126.5 L356.5,128.7 L357.1,131.0 L357.7,133.4 L358.3,135.9 L358.9,138.4 L359.5,140.9 L360.0,143.6 L360.6,146.5 L361.2,149.4 L361.7,152.2 L362.3,155.2 L362.9,158.0 L363.5,160.9 L364.1,164.1 L364.8,167.8 L365.4,172.3 L366.0,177.4 L366.7,183.4 L367.3,190.3 L367.8,197.1 L368.3,205.3 L368.8,214.5 L369.4,231.8 L370.1,243.2 L370.6,235.9 L371.1,221.1 L371.6,209.3 L372.1,203.1 L372.6,198.2 L373.1,194.4 L373.7,191.1 L374.2,188.2 L374.8,185.7 L375.3,183.7 L375.9,182.3 L376.5,181.3 L377.0,180.4 L377.6,179.6 L378.2,178.9 L378.7,178.3 L379.3,177.8 L379.9,177.4 L380.5,177.1 L381.0,176.9 L381.6,176.6 L382.1,176.4 L382.7,176.2 L383.2,176.1 L383.8,176.1 L384.4,176.1 L385.0,176.3 L385.6,176.5 L386.2,176.8 L386.8,177.1 L387.4,177.5 L388.1,177.8 L388.6,178.2 L389.2,178.7 L389.8,179.3 L390.4,179.9 L391.0,180.7 L391.5,181.5 L392.1,182.3 L392.7,183.4 L393.3,184.8 L393.9,186.3 L394.5,187.9 L395.1,189.6 L395.8,191.4 L396.4,193.4 L397.0,195.5 L397.6,197.4 L398.2,198.9 L398.8,200.0 L399.3,201.0 L399.9,201.8 L400.5,202.6 L401.0,203.4 L401.6,204.1 L402.2,204.9 L402.7,205.8 L403.4,206.8 L404.0,207.8 L404.6,208.8 L405.3,209.9 L405.9,211.2 L406.5,212.8 L407.1,214.3 L407.7,216.1 L408.2,218.4 L408.8,221.3 L409.3,224.9 L409.9,234.2 L410.5,247.1 L411.1,253.6 L411.7,239.6 L412.4,221.4 L412.9,215.2 L413.4,210.1 L413.9,206.3 L414.4,203.8 L415.0,201.6 L415.6,199.9 L416.2,198.4 L416.9,197.1 L417.5,196.1 L418.1,195.2 L418.7,194.4 L419.3,193.7 L419.9,193.0 L420.6,192.3 L421.2,191.7 L421.8,191.1 L422.4,190.6 L423.1,190.0 L423.7,189.6 L424.3,189.1 L424.9,188.7 L425.6,188.4 L426.2,188.1 L426.8,187.8 L427.4,187.6 L428.1,187.5 L428.7,187.4 L429.3,187.3 L430.0,187.2 L430.6,187.1 L431.2,187.0 L431.9,187.0 L432.5,186.9 L433.1,186.8 L433.8,186.8 L434.4,186.7 L435.0,186.6 L435.7,186.6 L436.3,186.6 L436.9,186.5 L437.6,186.5 L438.2,186.5 L438.8,186.5 L439.5,186.5 L440.1,186.5 L440.7,186.6 L441.4,186.6 L442.0,186.8 L442.6,186.9 L443.3,187.1 L443.9,187.4 L444.5,187.6 L445.2,187.9 L445.8,188.2 L446.4,188.5 L447.1,188.8 L447.7,189.1 L448.3,189.5 L449.0,189.8 L449.6,190.2 L450.2,190.6 L450.9,190.9 L451.5,191.3 L452.1,191.7 L452.8,192.0 L453.4,192.3 L454.0,192.7 L454.7,193.1 L455.3,193.4 L455.9,193.8 L456.6,194.2 L457.2,194.6 L457.8,195.1 L458.5,195.5 L459.1,196.0 L459.7,196.4 L460.4,196.9 L461.0,197.4 L461.6,197.8 L462.3,198.3 L462.9,198.8 L463.5,199.3 L464.2,199.8 L464.8,200.3 L465.4,200.8 L466.1,201.3 L466.7,201.9 L467.3,202.4 L468.0,203.0 L468.6,203.6 L469.2,204.1 L469.9,204.7 L470.5,205.3 L471.1,205.9 L471.8,206.5 L472.4,207.1 L473.0,207.7 L473.7,208.3 L474.3,208.9 L474.9,209.5 L475.6,210.1 L476.2,210.7 L476.8,211.2 L477.4,211.8 L478.0,212.3 L478.6,212.8 L479.3,213.3 L479.9,213.9 L480.5,214.4 L481.1,214.9 L481.7,215.4 L482.3,215.9 L482.9,216.5 L483.5,217.0 L484.2,217.5 L484.8,218.1 L485.4,218.7 L486.0,219.2 L486.6,219.8 L487.2,220.4 L487.8,221.1 L488.5,221.7 L489.1,222.4 L489.7,223.1 L490.3,223.9 L490.9,224.7 L491.6,225.5 L492.2,226.3 L492.8,227.1 L493.4,227.9 L494.0,228.7 L494.6,229.5 L495.3,230.3 L495.9,231.1 L496.5,231.9 L497.1,232.6 L497.7,233.3 L498.4,233.9 L499.0,234.5 L499.6,235.1 L500.2,235.7 L500.9,236.3 L501.5,236.9 L502.1,237.4 L502.8,238.0 L503.4,238.5 L504.0,239.1 L504.7,239.6 L505.3,240.1 L505.9,240.6 L506.6,241.1 L507.2,241.6 L507.8,242.1 L508.5,242.5 L509.1,243.0 L509.7,243.4 L510.4,243.8 L511.0,244.2 L511.6,244.6 L512.3,244.9 L512.9,245.3 L513.5,245.6 L514.2,245.9" fill="none" stroke="#22ee22" stroke-width="1.3" stroke-dasharray="6 3.8" clip-path="url(#c)"/>
<path d="M58.3,245.6 L59.0,245.6 L59.6,245.6 L60.2,245.6 L60.9,245.6 L61.5,245.6 L62.1,245.6 L62.8,245.6 L63.4,245.6 L64.0,245.6 L64.7,245.6 L65.3,245.6 L65.9,245.6 L66.6,245.6 L67.2,245.6 L67.8,245.6 L68.5,245.6 L69.1,245.6 L69.7,245.6 L70.4,245.6 L71.0,245.6 L71.6,245.6 L72.3,245.6 L72.9,245.6 L73.5,245.6 L74.1,245.6 L74.8,245.6 L75.4,245.5 L76.0,245.5 L76.6,245.4 L77.2,245.3 L77.9,245.2 L78.5,245.1 L79.1,245.0 L79.7,244.9 L80.3,244.8 L80.9,244.7 L81.6,244.5 L82.2,244.4 L82.8,244.3 L83.4,244.1 L84.0,244.0 L84.7,243.9 L85.3,243.7 L85.9,243.6 L86.5,243.5 L87.1,243.3 L87.7,243.1 L88.3,243.0 L89.0,242.8 L89.6,242.6 L90.2,242.4 L90.8,242.2 L91.4,242.0 L92.0,241.8 L92.6,241.6 L93.2,241.4 L93.9,241.2 L94.5,241.0 L95.1,240.8 L95.7,240.6 L96.3,240.4 L96.9,240.2 L97.6,240.0 L98.2,239.8 L98.8,239.6 L99.4,239.4 L100.0,239.2 L100.7,238.9 L101.3,238.7 L101.9,238.5 L102.5,238.3 L103.2,238.0 L103.8,237.8 L104.4,237.6 L105.0,237.4 L105.6,237.2 L106.3,237.0 L106.9,236.8 L107.5,236.6 L108.1,236.4 L108.7,236.2 L109.4,236.1 L110.0,235.9 L110.6,235.8 L111.2,235.6 L111.9,235.5 L112.5,235.4 L113.1,235.3 L113.7,235.2 L114.3,235.1 L115.0,235.0 L115.6,234.9 L116.2,234.8 L116.8,234.7 L117.4,234.6 L118.1,234.5 L118.7,234.4 L119.3,234.3 L119.9,234.3 L120.5,234.2 L121.2,234.1 L121.8,234.0 L122.4,233.9 L123.0,233.8 L123.6,233.7 L124.3,233.6 L124.9,233.5 L125.5,233.3 L126.1,233.2 L126.8,233.1 L127.4,232.9 L128.0,232.8 L128.6,232.6 L129.2,232.5 L129.9,232.3 L130.5,232.1 L131.1,231.8 L131.7,231.5 L132.4,231.3 L133.0,230.9 L133.6,230.6 L134.2,230.3 L134.9,229.9 L135.5,229.6 L136.1,229.2 L136.7,228.8 L137.4,228.4 L138.0,228.1 L138.6,227.7 L139.2,227.3 L139.9,226.9 L140.5,226.6 L141.1,226.2 L141.7,225.8 L142.4,225.4 L143.0,225.0 L143.6,224.6 L144.2,224.2 L144.8,223.7 L145.5,223.3 L146.1,222.9 L146.7,222.4 L147.3,222.0 L148.0,221.5 L148.6,221.0 L149.2,220.6 L149.8,220.1 L150.4,219.6 L151.1,219.1 L151.7,218.6 L152.3,218.1 L152.9,217.7 L153.5,217.2 L154.1,216.8 L154.7,216.3 L155.3,215.8 L155.9,215.3 L156.5,214.8 L157.1,214.4 L157.7,214.0 L158.3,213.6 L158.9,213.3 L159.5,213.2 L160.1,213.1 L160.7,213.1 L161.3,213.3 L161.9,213.5 L162.5,213.7 L163.1,214.0 L163.7,214.3 L164.3,214.7 L164.9,215.1 L165.4,215.5 L166.1,216.0 L166.7,216.7 L167.3,217.5 L168.0,218.4 L168.6,219.3 L169.2,220.4 L169.9,221.4 L170.5,222.4 L171.1,223.4 L171.7,224.5 L172.3,225.6 L172.9,226.8 L173.5,228.0 L174.1,229.3 L174.7,230.9 L175.2,232.6 L175.8,234.4 L176.4,236.3 L177.0,238.1 L177.6,239.7 L178.2,241.5 L178.8,243.1 L179.4,243.9 L180.0,242.8 L180.6,240.2 L181.3,236.8 L181.9,233.5 L182.5,230.3 L183.1,226.6 L183.7,222.8 L184.3,219.5 L185.0,216.9 L185.5,215.0 L186.1,213.3 L186.7,211.7 L187.3,210.3 L187.9,209.0 L188.5,207.8 L189.1,206.7 L189.7,205.7 L190.3,204.8 L190.9,203.8 L191.5,202.8 L192.2,201.8 L192.8,200.9 L193.4,200.1 L194.1,199.5 L194.7,199.1 L195.3,198.9 L196.0,199.2 L196.6,200.1 L197.2,201.3 L197.9,202.7 L198.5,204.8 L199.0,207.8 L199.6,211.0 L200.3,214.6 L200.9,218.4 L201.5,222.5 L202.2,226.6 L202.8,230.8 L203.4,235.2 L203.9,238.7 L204.5,241.0 L205.0,242.1 L205.6,231.0 L206.2,214.5 L206.9,204.3 L207.5,195.3 L208.1,187.3 L208.8,179.9 L209.4,173.1 L210.0,166.9 L210.7,161.1 L211.3,155.7 L211.9,150.7 L212.4,145.9 L213.0,141.6 L213.6,138.4 L214.2,135.9 L214.8,133.7 L215.4,131.6 L216.0,129.7 L216.6,127.9 L217.2,126.3 L217.9,124.9 L218.5,123.5 L219.1,122.2 L219.7,120.9 L220.3,119.7 L220.9,118.5 L221.5,117.3 L222.2,116.1 L222.8,114.9 L223.4,113.6 L224.0,112.2 L224.6,110.7 L225.2,109.3 L225.8,107.8 L226.4,106.3 L227.0,104.8 L227.6,103.3 L228.2,101.8 L228.7,100.4 L229.3,99.0 L229.9,97.7 L230.4,96.5 L231.0,95.2 L231.6,94.0 L232.1,92.8 L232.7,91.6 L233.2,90.5 L233.8,89.3 L234.4,88.1 L234.9,86.8 L235.5,85.5 L236.1,84.2 L236.7,83.0 L237.3,81.7 L237.9,80.5 L238.4,79.3 L239.0,78.2 L239.6,77.1 L240.2,76.1 L240.8,75.1 L241.4,74.2 L242.0,73.4 L242.6,72.6 L243.3,71.8 L243.9,71.1 L244.5,70.3 L245.1,69.6 L245.8,68.8 L246.4,68.1 L247.0,67.4 L247.7,66.6 L248.3,65.9 L248.9,65.2 L249.6,64.5 L250.2,63.8 L250.8,63.1 L251.4,62.4 L252.1,61.7 L252.7,61.0 L253.3,60.4 L254.0,59.7 L254.6,59.1 L255.2,58.4 L255.9,57.8 L256.5,57.2 L257.1,56.6 L257.8,56.0 L258.4,55.4 L259.0,54.8 L259.7,54.2 L260.3,53.6 L260.9,53.1 L261.6,52.5 L262.2,51.9 L262.8,51.4 L263.5,50.8 L264.1,50.3 L264.7,49.8 L265.4,49.3 L266.0,48.8 L266.6,48.4 L267.3,47.9 L267.9,47.5 L268.5,47.1 L269.2,46.7 L269.8,46.3 L270.4,46.0 L271.1,45.6 L271.7,45.2 L272.3,44.9 L273.0,44.5 L273.6,44.2 L274.2,43.9 L274.9,43.6 L275.5,43.4 L276.1,43.1 L276.8,42.9 L277.4,42.8 L278.0,42.7 L278.7,42.5 L279.3,42.4 L279.9,42.3 L280.6,42.2 L281.2,42.0 L281.8,41.9 L282.5,41.9 L283.1,41.8 L283.7,41.7 L284.4,41.7 L285.0,41.6 L285.6,41.6 L286.2,41.6 L286.9,41.6 L287.5,41.6 L288.1,41.7 L288.8,41.7 L289.4,41.8 L290.0,41.9 L290.7,41.9 L291.3,42.0 L291.9,42.2 L292.6,42.3 L293.2,42.4 L293.8,42.5 L294.5,42.7 L295.1,42.8 L295.7,42.9 L296.4,43.1 L297.0,43.4 L297.6,43.6 L298.3,43.9 L298.9,44.2 L299.5,44.5 L300.2,44.9 L300.8,45.2 L301.4,45.6 L302.1,46.0 L302.7,46.3 L303.3,46.7 L304.0,47.1 L304.6,47.5 L305.2,47.9 L305.9,48.4 L306.5,48.8 L307.1,49.3 L307.8,49.8 L308.4,50.3 L309.0,50.8 L309.7,51.4 L310.3,51.9 L310.9,52.5 L311.6,53.1 L312.2,53.6 L312.8,54.2 L313.5,54.8 L314.1,55.4 L314.7,56.0 L315.4,56.6 L316.0,57.2 L316.6,57.8 L317.3,58.4 L317.9,59.1 L318.5,59.7 L319.2,60.4 L319.8,61.0 L320.4,61.7 L321.1,62.4 L321.7,63.1 L322.3,63.8 L322.9,64.5 L323.6,65.2 L324.2,65.9 L324.8,66.6 L325.5,67.4 L326.1,68.1 L326.7,68.8 L327.4,69.6 L328.0,70.3 L328.6,71.1 L329.2,71.8 L329.9,72.6 L330.5,73.4 L331.1,74.2 L331.7,75.1 L332.3,76.1 L332.9,77.1 L333.5,78.2 L334.1,79.3 L334.6,80.5 L335.2,81.7 L335.8,83.0 L336.4,84.2 L337.0,85.5 L337.6,86.8 L338.1,88.1 L338.7,89.3 L339.3,90.5 L339.8,91.6 L340.4,92.8 L340.9,94.0 L341.5,95.2 L342.1,96.5 L342.6,97.7 L343.2,99.0 L343.8,100.4 L344.3,101.8 L344.9,103.3 L345.5,104.8 L346.1,106.3 L346.7,107.8 L347.3,109.3 L347.9,110.7 L348.5,112.2 L349.1,113.6 L349.7,115.0 L350.3,116.3 L351.0,117.5 L351.6,118.8 L352.2,120.1 L352.8,121.3 L353.4,122.6 L354.0,124.0 L354.6,125.4 L355.3,126.9 L355.9,128.5 L356.5,130.2 L357.1,132.0 L357.7,134.0 L358.3,136.1 L358.9,138.4 L359.5,140.9 L360.0,143.8 L360.6,147.3 L361.2,151.3 L361.7,155.7 L362.2,160.5 L362.7,166.3 L363.2,172.9 L363.7,179.9 L364.3,187.8 L364.8,196.8 L365.3,206.0 L365.8,214.5 L366.3,223.7 L366.8,232.6 L367.3,236.6 L367.8,234.3 L368.3,229.3 L368.8,224.9 L369.4,221.3 L369.9,218.0 L370.5,215.1 L371.1,212.8 L371.6,210.9 L372.2,209.1 L372.7,207.4 L373.3,206.1 L373.8,205.1 L374.4,204.5 L375.0,204.0 L375.6,203.7 L376.3,203.5 L376.9,203.4 L377.5,203.6 L378.1,204.0 L378.7,204.5 L379.3,205.2 L380.0,205.8 L380.6,206.5 L381.2,207.2 L381.8,208.0 L382.4,208.9 L383.0,209.9 L383.6,210.9 L384.3,212.1 L384.8,213.3 L385.4,214.7 L386.0,216.2 L386.6,217.9 L387.2,219.8 L387.8,221.7 L388.3,223.7 L388.9,225.8 L389.5,227.9 L390.1,230.0 L390.7,232.9 L391.3,236.4 L391.9,239.9 L392.5,242.5 L393.1,243.5 L393.8,243.3 L394.4,242.7 L395.0,241.8 L395.7,240.7 L396.3,239.6 L396.9,238.3 L397.6,236.8 L398.2,234.8 L398.8,232.4 L399.5,229.9 L400.1,227.4 L400.7,225.2 L401.4,223.3 L402.0,222.1 L402.6,221.3 L403.2,220.5 L403.8,219.7 L404.3,219.0 L404.9,218.3 L405.5,217.7 L406.1,217.2 L406.7,216.7 L407.3,216.4 L407.9,216.1 L408.5,215.9 L409.1,215.9 L409.7,215.9 L410.3,216.0 L410.8,216.2 L411.4,216.4 L412.0,216.6 L412.6,216.9 L413.2,217.2 L413.8,217.6 L414.4,217.9 L415.0,218.3 L415.6,218.6 L416.2,219.0 L416.8,219.4 L417.4,219.8 L418.0,220.3 L418.6,220.9 L419.2,221.5 L419.8,222.1 L420.5,222.7 L421.1,223.3 L421.7,223.8 L422.3,224.4 L422.9,224.8 L423.5,225.2 L424.1,225.5 L424.7,225.9 L425.3,226.2 L426.0,226.5 L426.6,226.8 L427.2,227.1 L427.8,227.4 L428.4,227.6 L429.0,227.8 L429.6,228.0 L430.2,228.2 L430.9,228.3 L431.5,228.4 L432.1,228.5 L432.7,228.6 L433.3,228.7 L433.9,228.8 L434.5,228.9 L435.2,229.0 L435.8,229.0 L436.4,229.1 L437.0,229.2 L437.6,229.2 L438.2,229.3 L438.9,229.3 L439.5,229.3 L440.1,229.4 L440.7,229.4 L441.3,229.4 L441.9,229.5 L442.5,229.5 L443.1,229.5 L443.7,229.5 L444.3,229.5 L444.9,229.5 L445.5,229.5 L446.1,229.6 L446.7,229.6 L447.3,229.6 L447.9,229.6 L448.5,229.7 L449.1,229.7 L449.7,229.7 L450.3,229.8 L451.0,229.9 L451.6,230.0 L452.2,230.1 L452.8,230.3 L453.5,230.4 L454.1,230.6 L454.7,230.7 L455.3,230.9 L456.0,231.1 L456.6,231.3 L457.2,231.4 L457.8,231.6 L458.5,231.8 L459.1,231.9 L459.7,232.1 L460.4,232.3 L461.0,232.5 L461.6,232.7 L462.3,232.9 L462.9,233.1 L463.5,233.3 L464.2,233.5 L464.8,233.7 L465.4,233.9 L466.1,234.1 L466.7,234.3 L467.3,234.5 L468.0,234.7 L468.6,235.0 L469.2,235.2 L469.9,235.4 L470.5,235.6 L471.1,235.8 L471.8,236.0 L472.4,236.3 L473.0,236.5 L473.7,236.7 L474.3,236.9 L474.9,237.1 L475.6,237.4 L476.2,237.6 L476.8,237.8 L477.5,238.0 L478.1,238.2 L478.7,238.3 L479.4,238.5 L480.0,238.7 L480.6,238.9 L481.3,239.0 L481.9,239.2 L482.5,239.4 L483.2,239.5 L483.8,239.7 L484.4,239.8 L485.1,240.0 L485.7,240.1 L486.3,240.3 L487.0,240.4 L487.6,240.6 L488.2,240.7 L488.9,240.9 L489.5,241.0 L490.1,241.2 L490.7,241.3 L491.4,241.5 L492.0,241.6 L492.6,241.8 L493.3,242.0 L493.9,242.1 L494.5,242.3 L495.2,242.4 L495.8,242.6 L496.4,242.8 L497.1,242.9 L497.7,243.1 L498.3,243.2 L499.0,243.4 L499.6,243.6 L500.2,243.7 L500.9,243.9 L501.5,244.0 L502.1,244.2 L502.8,244.3 L503.4,244.4 L504.0,244.6 L504.7,244.7 L505.3,244.8 L505.9,244.9 L506.6,245.1 L507.2,245.2 L507.8,245.3 L508.5,245.4 L509.1,245.5 L509.7,245.6 L510.4,245.7 L511.0,245.8 L511.6,245.9 L512.3,246.0 L512.9,246.1 L513.5,246.2 L514.2,246.3" fill="none" stroke="#e8872a" stroke-width="1.3" stroke-dasharray="4.7 2.15 1 2.15" clip-path="url(#c)"/>
<path d="M58.3,179.2 L58.9,179.2 L59.5,179.3 L60.2,179.4 L60.8,179.6 L61.4,179.7 L62.0,179.9 L62.6,180.1 L63.2,180.3 L63.8,180.6 L64.4,180.9 L65.0,181.1 L65.7,181.4 L66.3,181.7 L66.9,182.0 L67.5,182.4 L68.1,182.7 L68.7,183.0 L69.3,183.4 L69.9,183.8 L70.6,184.2 L71.2,184.6 L71.8,185.2 L72.4,185.7 L73.0,186.3 L73.6,186.9 L74.2,187.5 L74.9,188.2 L75.5,188.9 L76.1,189.7 L76.7,190.5 L77.3,191.3 L77.9,192.2 L78.5,193.2 L79.1,194.4 L79.7,195.6 L80.3,197.0 L80.9,198.4 L81.5,199.9 L82.1,201.4 L82.8,203.0 L83.4,204.5 L84.0,206.1 L84.6,207.7 L85.2,209.3 L85.8,210.9 L86.4,212.6 L87.0,214.3 L87.6,216.0 L88.2,217.8 L88.8,219.6 L89.4,221.4 L90.0,223.1 L90.6,225.0 L91.1,227.1 L91.7,229.2 L92.3,231.3 L92.9,232.9 L93.5,234.1 L94.0,234.5 L94.6,233.9 L95.3,232.4 L95.9,230.1 L96.5,227.4 L97.1,224.5 L97.7,221.9 L98.3,219.7 L98.9,217.9 L99.5,216.3 L100.0,214.6 L100.6,213.0 L101.2,211.5 L101.8,210.0 L102.3,208.6 L102.9,207.2 L103.5,205.8 L104.2,204.3 L104.8,203.0 L105.4,201.6 L106.1,200.3 L106.7,199.0 L107.3,197.8 L108.0,196.6 L108.6,195.4 L109.2,194.3 L109.9,193.1 L110.5,192.0 L111.1,190.9 L111.7,189.9 L112.3,188.8 L112.9,187.8 L113.6,186.8 L114.2,185.8 L114.8,184.9 L115.4,183.9 L116.0,183.0 L116.6,182.2 L117.2,181.4 L117.8,180.6 L118.4,179.9 L119.0,179.2 L119.6,178.5 L120.2,177.8 L120.8,177.2 L121.4,176.6 L122.0,176.1 L122.6,175.5 L123.2,175.1 L123.8,174.6 L124.4,174.1 L125.0,173.7 L125.6,173.2 L126.2,172.8 L126.8,172.5 L127.4,172.1 L128.0,171.8 L128.6,171.5 L129.2,171.3 L129.9,171.0 L130.5,170.8 L131.1,170.6 L131.7,170.3 L132.4,170.1 L133.0,169.9 L133.6,169.8 L134.2,169.6 L134.8,169.5 L135.5,169.3 L136.1,169.3 L136.7,169.2 L137.3,169.2 L138.0,169.2 L138.6,169.2 L139.2,169.3 L139.8,169.3 L140.4,169.4 L141.0,169.5 L141.6,169.6 L142.2,169.7 L142.9,169.8 L143.5,169.9 L144.1,170.1 L144.7,170.2 L145.3,170.4 L145.9,170.6 L146.5,170.8 L147.1,171.0 L147.8,171.2 L148.4,171.4 L149.0,171.6 L149.6,171.9 L150.2,172.2 L150.8,172.6 L151.4,173.0 L152.0,173.5 L152.6,174.1 L153.2,174.7 L153.9,175.3 L154.5,176.0 L155.1,176.7 L155.7,177.5 L156.3,178.3 L156.9,179.2 L157.5,180.0 L158.1,180.9 L158.7,181.9 L159.3,182.9 L160.0,184.0 L160.6,185.3 L161.2,186.7 L161.8,188.2 L162.4,190.0 L163.1,192.1 L163.7,194.4 L164.3,197.5 L164.9,201.9 L165.4,207.6 L166.1,219.6 L166.7,228.3 L167.2,224.8 L167.7,217.9 L168.2,212.8 L168.8,210.3 L169.3,208.4 L169.9,206.9 L170.5,205.5 L171.0,204.1 L171.6,202.7 L172.1,201.4 L172.7,200.2 L173.2,199.0 L173.8,197.8 L174.3,196.5 L174.9,195.0 L175.5,193.5 L176.1,191.9 L176.7,190.4 L177.3,188.9 L177.9,187.5 L178.4,186.3 L179.0,185.1 L179.6,184.0 L180.2,182.9 L180.8,181.7 L181.4,180.6 L182.0,179.3 L182.6,177.8 L183.2,176.4 L183.9,174.9 L184.5,173.6 L185.1,172.5 L185.7,171.6 L186.3,170.9 L186.9,170.3 L187.5,169.8 L188.1,169.2 L188.7,168.8 L189.3,168.3 L189.8,168.0 L190.4,167.7 L191.0,167.5 L191.6,167.3 L192.2,167.1 L192.7,166.9 L193.3,166.7 L193.9,166.6 L194.4,166.5 L195.0,166.4 L195.6,166.4 L196.2,166.5 L196.8,166.7 L197.4,167.0 L198.0,167.4 L198.6,167.8 L199.2,168.3 L199.8,168.9 L200.4,169.5 L201.0,170.3 L201.7,171.3 L202.3,172.6 L202.9,174.1 L203.6,175.9 L204.2,177.8 L204.8,180.3 L205.4,183.5 L206.0,187.2 L206.6,190.9 L207.2,195.2 L207.7,200.6 L208.4,212.7 L209.0,221.4 L209.6,211.8 L210.3,197.2 L210.8,189.3 L211.3,181.9 L211.8,175.3 L212.3,169.5 L212.9,163.3 L213.6,157.6 L214.2,152.7 L214.8,148.8 L215.4,145.5 L216.1,142.5 L216.7,139.6 L217.3,136.8 L217.9,134.3 L218.5,131.8 L219.1,129.5 L219.7,127.3 L220.3,125.3 L220.9,123.3 L221.6,121.3 L222.2,119.5 L222.8,117.7 L223.4,115.9 L224.0,114.2 L224.6,112.5 L225.2,110.7 L225.8,109.1 L226.5,107.5 L227.1,106.0 L227.7,104.5 L228.3,103.1 L228.9,101.7 L229.5,100.4 L230.2,99.0 L230.7,97.7 L231.3,96.5 L231.9,95.2 L232.4,94.0 L233.0,92.8 L233.6,91.7 L234.2,90.5 L234.7,89.3 L235.3,88.1 L235.9,86.8 L236.5,85.5 L237.1,84.3 L237.7,83.0 L238.3,81.7 L238.9,80.5 L239.5,79.3 L240.1,78.2 L240.7,77.1 L241.3,76.1 L241.9,75.1 L242.5,74.2 L243.1,73.4 L243.7,72.6 L244.3,71.8 L245.0,71.1 L245.6,70.3 L246.2,69.6 L246.8,68.8 L247.4,68.1 L248.1,67.4 L248.7,66.6 L249.3,65.9 L249.9,65.2 L250.6,64.5 L251.2,63.8 L251.8,63.1 L252.4,62.4 L253.0,61.7 L253.7,61.0 L254.3,60.4 L254.9,59.7 L255.5,59.1 L256.1,58.4 L256.8,57.8 L257.4,57.2 L258.0,56.6 L258.6,56.0 L259.2,55.4 L259.8,54.8 L260.5,54.2 L261.1,53.6 L261.7,53.1 L262.3,52.5 L262.9,51.9 L263.5,51.4 L264.1,50.8 L264.8,50.3 L265.4,49.8 L266.0,49.3 L266.6,48.8 L267.2,48.4 L267.8,47.9 L268.4,47.5 L269.1,47.1 L269.7,46.7 L270.3,46.3 L270.9,46.0 L271.5,45.6 L272.1,45.2 L272.7,44.9 L273.4,44.5 L274.0,44.2 L274.6,43.9 L275.2,43.6 L275.8,43.4 L276.4,43.1 L277.0,42.9 L277.7,42.8 L278.3,42.7 L278.9,42.5 L279.5,42.4 L280.1,42.3 L280.7,42.2 L281.3,42.0 L282.0,41.9 L282.6,41.9 L283.2,41.8 L283.8,41.7 L284.4,41.7 L285.0,41.6 L285.6,41.6 L286.2,41.6 L286.9,41.6 L287.5,41.6 L288.1,41.7 L288.7,41.7 L289.3,41.8 L289.9,41.9 L290.5,41.9 L291.2,42.0 L291.8,42.2 L292.4,42.3 L293.0,42.4 L293.6,42.5 L294.2,42.7 L294.8,42.8 L295.5,42.9 L296.1,43.1 L296.7,43.4 L297.3,43.6 L297.9,43.9 L298.5,44.2 L299.1,44.5 L299.8,44.9 L300.4,45.2 L301.0,45.6 L301.6,46.0 L302.2,46.3 L302.8,46.7 L303.4,47.1 L304.1,47.5 L304.7,47.9 L305.3,48.4 L305.9,48.8 L306.5,49.3 L307.1,49.8 L307.7,50.3 L308.4,50.8 L309.0,51.4 L309.6,51.9 L310.2,52.5 L310.8,53.1 L311.4,53.6 L312.0,54.2 L312.7,54.8 L313.3,55.4 L313.9,56.0 L314.5,56.6 L315.1,57.2 L315.7,57.8 L316.4,58.4 L317.0,59.1 L317.6,59.7 L318.2,60.4 L318.8,61.0 L319.5,61.7 L320.1,62.4 L320.7,63.1 L321.3,63.8 L321.9,64.5 L322.6,65.2 L323.2,65.9 L323.8,66.6 L324.4,67.4 L325.1,68.1 L325.7,68.8 L326.3,69.6 L326.9,70.3 L327.5,71.1 L328.2,71.8 L328.8,72.6 L329.4,73.4 L330.0,74.2 L330.6,75.1 L331.2,76.1 L331.8,77.1 L332.4,78.2 L333.0,79.3 L333.6,80.5 L334.2,81.7 L334.8,83.0 L335.4,84.3 L336.0,85.5 L336.6,86.8 L337.2,88.1 L337.8,89.3 L338.3,90.5 L338.9,91.7 L339.5,92.8 L340.1,94.0 L340.6,95.2 L341.2,96.5 L341.8,97.7 L342.3,99.0 L343.0,100.4 L343.6,101.7 L344.2,103.1 L344.8,104.5 L345.4,106.0 L346.0,107.5 L346.7,109.1 L347.3,110.7 L347.9,112.5 L348.5,114.2 L349.1,115.9 L349.7,117.7 L350.3,119.5 L350.9,121.3 L351.6,123.3 L352.2,125.3 L352.8,127.3 L353.4,129.5 L354.0,131.8 L354.6,134.3 L355.2,136.8 L355.8,139.6 L356.4,142.5 L357.1,145.5 L357.7,148.8 L358.3,152.7 L358.9,157.6 L359.6,163.3 L360.2,169.5 L360.7,175.3 L361.2,181.9 L361.7,189.3 L362.2,197.2 L362.9,211.8 L363.5,221.4 L364.1,212.7 L364.8,200.6 L365.3,195.2 L365.9,190.9 L366.5,187.2 L367.1,183.5 L367.7,180.3 L368.3,177.8 L368.9,175.9 L369.6,174.1 L370.2,172.6 L370.8,171.3 L371.5,170.3 L372.1,169.5 L372.7,168.9 L373.3,168.3 L373.9,167.8 L374.5,167.4 L375.1,167.0 L375.7,166.7 L376.3,166.5 L376.9,166.4 L377.5,166.4 L378.1,166.5 L378.6,166.6 L379.2,166.7 L379.8,166.9 L380.3,167.1 L380.9,167.3 L381.5,167.5 L382.1,167.7 L382.7,168.0 L383.2,168.3 L383.8,168.8 L384.4,169.2 L385.0,169.8 L385.6,170.3 L386.2,170.9 L386.8,171.6 L387.4,172.5 L388.0,173.6 L388.6,174.9 L389.3,176.4 L389.9,177.8 L390.5,179.3 L391.1,180.6 L391.7,181.7 L392.3,182.9 L392.9,184.0 L393.5,185.1 L394.1,186.3 L394.6,187.5 L395.2,188.9 L395.8,190.4 L396.4,191.9 L397.0,193.5 L397.6,195.0 L398.2,196.5 L398.7,197.8 L399.3,199.0 L399.8,200.2 L400.4,201.4 L400.9,202.7 L401.5,204.1 L402.0,205.5 L402.6,206.9 L403.2,208.4 L403.7,210.3 L404.3,212.8 L404.8,217.9 L405.3,224.8 L405.8,228.3 L406.4,219.6 L407.1,207.6 L407.6,201.9 L408.2,197.5 L408.8,194.4 L409.4,192.1 L410.1,190.0 L410.7,188.2 L411.3,186.7 L411.9,185.3 L412.5,184.0 L413.2,182.9 L413.8,181.9 L414.4,180.9 L415.0,180.0 L415.6,179.2 L416.2,178.3 L416.8,177.5 L417.4,176.7 L418.0,176.0 L418.6,175.3 L419.3,174.7 L419.9,174.1 L420.5,173.5 L421.1,173.0 L421.7,172.6 L422.3,172.2 L422.9,171.9 L423.5,171.6 L424.1,171.4 L424.7,171.2 L425.4,171.0 L426.0,170.8 L426.6,170.6 L427.2,170.4 L427.8,170.2 L428.4,170.1 L429.0,169.9 L429.6,169.8 L430.3,169.7 L430.9,169.6 L431.5,169.5 L432.1,169.4 L432.7,169.3 L433.3,169.3 L433.9,169.2 L434.5,169.2 L435.2,169.2 L435.8,169.2 L436.4,169.3 L437.0,169.3 L437.7,169.5 L438.3,169.6 L438.9,169.8 L439.5,169.9 L440.1,170.1 L440.8,170.3 L441.4,170.6 L442.0,170.8 L442.6,171.0 L443.3,171.3 L443.9,171.5 L444.5,171.8 L445.1,172.1 L445.7,172.5 L446.3,172.8 L446.9,173.2 L447.5,173.7 L448.1,174.1 L448.7,174.6 L449.3,175.1 L449.9,175.5 L450.5,176.1 L451.1,176.6 L451.7,177.2 L452.3,177.8 L452.9,178.5 L453.5,179.2 L454.1,179.9 L454.7,180.6 L455.3,181.4 L455.9,182.2 L456.5,183.0 L457.1,183.9 L457.7,184.9 L458.3,185.8 L458.9,186.8 L459.6,187.8 L460.2,188.8 L460.8,189.9 L461.4,190.9 L462.0,192.0 L462.6,193.1 L463.3,194.3 L463.9,195.4 L464.5,196.6 L465.2,197.8 L465.8,199.0 L466.4,200.3 L467.1,201.6 L467.7,203.0 L468.3,204.3 L469.0,205.8 L469.6,207.2 L470.2,208.6 L470.7,210.0 L471.3,211.5 L471.9,213.0 L472.5,214.6 L473.0,216.3 L473.6,217.9 L474.2,219.7 L474.8,221.9 L475.4,224.5 L476.0,227.4 L476.6,230.1 L477.2,232.4 L477.9,233.9 L478.5,234.5 L479.0,234.1 L479.6,232.9 L480.2,231.3 L480.8,229.2 L481.4,227.1 L481.9,225.0 L482.5,223.1 L483.1,221.4 L483.7,219.6 L484.3,217.8 L484.9,216.0 L485.5,214.3 L486.1,212.6 L486.7,210.9 L487.3,209.3 L487.9,207.7 L488.5,206.1 L489.1,204.5 L489.7,203.0 L490.4,201.4 L491.0,199.9 L491.6,198.4 L492.2,197.0 L492.8,195.6 L493.4,194.4 L494.0,193.2 L494.6,192.2 L495.2,191.3 L495.8,190.5 L496.4,189.7 L497.0,188.9 L497.6,188.2 L498.3,187.5 L498.9,186.9 L499.5,186.3 L500.1,185.7 L500.7,185.2 L501.3,184.6 L501.9,184.2 L502.6,183.8 L503.2,183.4 L503.8,183.0 L504.4,182.7 L505.0,182.4 L505.6,182.0 L506.2,181.7 L506.8,181.4 L507.5,181.1 L508.1,180.9 L508.7,180.6 L509.3,180.3 L509.9,180.1 L510.5,179.9 L511.1,179.7 L511.7,179.6 L512.3,179.4 L513.0,179.3 L513.6,179.2 L514.2,179.2" fill="none" stroke="#4646ff" stroke-width="1.4" stroke-dasharray="1.1 1.3" clip-path="url(#c)"/>
<path d="M58.3,227.6 L59.0,227.6 L59.6,227.6 L60.2,227.6 L60.9,227.5 L61.5,227.4 L62.1,227.4 L62.8,227.3 L63.4,227.2 L64.0,227.1 L64.7,227.0 L65.3,226.8 L65.9,226.7 L66.6,226.6 L67.2,226.4 L67.8,226.2 L68.5,226.1 L69.1,225.9 L69.7,225.7 L70.4,225.5 L71.0,225.3 L71.6,225.1 L72.3,224.9 L72.9,224.7 L73.5,224.5 L74.1,224.3 L74.7,224.0 L75.3,223.7 L75.9,223.3 L76.5,222.9 L77.1,222.4 L77.8,222.0 L78.4,221.5 L79.0,220.9 L79.6,220.4 L80.2,219.9 L80.8,219.3 L81.4,218.8 L82.0,218.2 L82.6,217.7 L83.2,217.2 L83.8,216.7 L84.4,216.2 L85.0,215.7 L85.7,215.3 L86.3,214.8 L86.9,214.3 L87.5,213.9 L88.2,213.4 L88.8,212.9 L89.4,212.5 L90.0,212.0 L90.7,211.5 L91.3,211.1 L91.9,210.6 L92.6,210.1 L93.2,209.6 L93.8,209.2 L94.4,208.7 L95.1,208.2 L95.7,207.7 L96.3,207.2 L96.9,206.7 L97.6,206.2 L98.2,205.7 L98.8,205.1 L99.5,204.6 L100.1,204.1 L100.7,203.5 L101.4,203.0 L102.0,202.4 L102.6,201.9 L103.3,201.3 L103.9,200.8 L104.5,200.3 L105.2,199.8 L105.8,199.3 L106.4,198.8 L107.1,198.3 L107.7,197.9 L108.3,197.4 L109.0,197.0 L109.6,196.5 L110.2,196.1 L110.9,195.6 L111.5,195.1 L112.1,194.7 L112.8,194.3 L113.4,193.8 L114.0,193.4 L114.7,193.0 L115.3,192.6 L115.9,192.3 L116.6,192.0 L117.2,191.7 L117.8,191.4 L118.5,191.2 L119.1,191.0 L119.7,190.8 L120.3,190.6 L120.9,190.5 L121.6,190.3 L122.2,190.2 L122.8,190.0 L123.4,189.9 L124.0,189.7 L124.6,189.6 L125.2,189.5 L125.8,189.4 L126.5,189.3 L127.1,189.2 L127.7,189.1 L128.3,189.0 L128.9,189.0 L129.5,188.9 L130.1,188.9 L130.8,188.9 L131.4,188.9 L132.0,188.9 L132.6,189.0 L133.2,189.0 L133.9,189.1 L134.5,189.2 L135.1,189.3 L135.7,189.4 L136.3,189.5 L137.0,189.7 L137.6,189.8 L138.2,190.0 L138.8,190.2 L139.5,190.4 L140.1,190.6 L140.7,190.8 L141.3,191.0 L141.9,191.3 L142.6,191.5 L143.2,191.8 L143.8,192.1 L144.4,192.3 L145.1,192.7 L145.7,193.2 L146.3,193.8 L147.0,194.6 L147.6,195.4 L148.2,196.3 L148.9,197.3 L149.5,198.4 L150.1,199.5 L150.8,200.6 L151.3,201.9 L151.9,203.3 L152.5,205.0 L153.0,206.8 L153.6,208.7 L154.2,210.6 L154.7,212.6 L155.3,214.5 L155.9,216.4 L156.4,218.4 L157.0,220.5 L157.5,222.5 L158.1,224.3 L158.6,225.9 L159.2,227.6 L159.9,229.3 L160.5,230.6 L161.1,231.1 L161.7,230.9 L162.3,230.2 L162.9,229.4 L163.5,228.3 L164.1,227.1 L164.7,225.9 L165.3,224.4 L166.0,222.4 L166.6,220.3 L167.2,218.1 L167.9,216.1 L168.5,214.5 L169.1,213.1 L169.7,211.8 L170.3,210.4 L171.0,209.2 L171.6,208.0 L172.2,207.0 L172.8,206.2 L173.4,205.5 L174.1,205.1 L174.7,204.9 L175.2,204.7 L175.8,204.4 L176.4,204.2 L177.0,204.1 L177.6,203.9 L178.2,203.7 L178.8,203.6 L179.4,203.5 L180.0,203.5 L180.6,203.4 L181.2,203.4 L181.8,203.4 L182.4,203.4 L183.0,203.4 L183.6,203.5 L184.3,203.5 L184.9,203.5 L185.5,203.6 L186.1,203.6 L186.7,203.7 L187.4,203.7 L188.0,203.8 L188.6,203.8 L189.2,204.0 L189.8,204.1 L190.4,204.3 L190.9,204.5 L191.5,204.7 L192.1,204.9 L192.7,205.1 L193.3,205.2 L193.9,205.4 L194.5,205.5 L195.1,205.5 L195.7,205.5 L196.3,205.4 L196.9,205.3 L197.4,205.2 L198.0,205.0 L198.6,204.8 L199.1,204.3 L199.6,203.3 L200.1,202.0 L200.7,200.6 L201.2,199.0 L201.7,197.1 L202.3,194.9 L202.8,192.7 L203.4,190.5 L203.9,188.5 L204.6,186.6 L205.2,184.9 L205.8,183.1 L206.5,180.9 L207.1,178.2 L207.7,174.9 L208.3,171.4 L208.9,167.7 L209.5,164.3 L210.1,161.0 L210.8,157.5 L211.4,154.1 L212.0,150.9 L212.7,147.9 L213.3,145.3 L213.9,143.2 L214.5,141.2 L215.1,139.4 L215.6,137.6 L216.2,136.0 L216.8,134.4 L217.4,132.8 L218.0,131.2 L218.6,129.7 L219.1,128.0 L219.8,126.2 L220.4,124.4 L221.0,122.6 L221.7,120.9 L222.3,119.1 L222.9,117.4 L223.6,115.6 L224.2,114.0 L224.8,112.3 L225.5,110.7 L226.0,109.3 L226.6,108.0 L227.2,106.6 L227.8,105.3 L228.3,104.0 L228.9,102.7 L229.5,101.4 L230.0,100.2 L230.6,99.0 L231.2,97.7 L231.8,96.5 L232.4,95.2 L233.0,94.0 L233.7,92.8 L234.3,91.7 L234.9,90.5 L235.5,89.3 L236.1,88.1 L236.7,86.8 L237.3,85.6 L238.0,84.3 L238.6,83.0 L239.2,81.8 L239.8,80.6 L240.5,79.4 L241.1,78.2 L241.7,77.1 L242.3,76.1 L242.9,75.1 L243.6,74.2 L244.2,73.4 L244.8,72.6 L245.5,71.8 L246.1,71.1 L246.7,70.3 L247.3,69.6 L248.0,68.9 L248.6,68.1 L249.2,67.4 L249.8,66.7 L250.4,65.9 L251.0,65.2 L251.7,64.5 L252.3,63.8 L252.9,63.1 L253.5,62.4 L254.1,61.7 L254.7,61.1 L255.4,60.4 L256.0,59.7 L256.6,59.1 L257.2,58.5 L257.8,57.8 L258.5,57.2 L259.1,56.6 L259.7,55.9 L260.3,55.3 L261.0,54.7 L261.6,54.1 L262.2,53.5 L262.8,52.8 L263.4,52.2 L264.1,51.7 L264.7,51.1 L265.3,50.5 L265.9,50.0 L266.6,49.4 L267.2,48.9 L267.8,48.4 L268.4,48.0 L269.1,47.5 L269.7,47.1 L270.3,46.7 L270.9,46.3 L271.5,46.0 L272.0,45.6 L272.6,45.2 L273.2,44.9 L273.8,44.5 L274.4,44.2 L275.0,43.9 L275.6,43.6 L276.2,43.4 L276.8,43.1 L277.4,42.9 L278.0,42.8 L278.6,42.7 L279.1,42.5 L279.7,42.4 L280.3,42.3 L280.9,42.2 L281.5,42.0 L282.1,41.9 L282.7,41.9 L283.3,41.8 L283.9,41.7 L284.5,41.7 L285.1,41.6 L285.7,41.6 L286.2,41.6 L286.8,41.6 L287.4,41.6 L288.0,41.7 L288.6,41.7 L289.2,41.8 L289.8,41.9 L290.4,41.9 L291.0,42.0 L291.6,42.2 L292.2,42.3 L292.8,42.4 L293.4,42.5 L293.9,42.7 L294.5,42.8 L295.1,42.9 L295.7,43.1 L296.3,43.4 L296.9,43.6 L297.5,43.9 L298.1,44.2 L298.7,44.5 L299.3,44.9 L299.9,45.2 L300.5,45.6 L301.0,46.0 L301.6,46.3 L302.2,46.7 L302.8,47.1 L303.4,47.5 L304.1,48.0 L304.7,48.4 L305.3,48.9 L305.9,49.4 L306.6,50.0 L307.2,50.5 L307.8,51.1 L308.4,51.7 L309.1,52.2 L309.7,52.8 L310.3,53.5 L310.9,54.1 L311.5,54.7 L312.2,55.3 L312.8,55.9 L313.4,56.6 L314.0,57.2 L314.7,57.8 L315.3,58.5 L315.9,59.1 L316.5,59.7 L317.1,60.4 L317.8,61.1 L318.4,61.7 L319.0,62.4 L319.6,63.1 L320.2,63.8 L320.8,64.5 L321.5,65.2 L322.1,65.9 L322.7,66.7 L323.3,67.4 L323.9,68.1 L324.5,68.9 L325.2,69.6 L325.8,70.3 L326.4,71.1 L327.0,71.8 L327.7,72.6 L328.3,73.4 L328.9,74.2 L329.6,75.1 L330.2,76.1 L330.8,77.1 L331.4,78.2 L332.0,79.4 L332.7,80.6 L333.3,81.8 L333.9,83.0 L334.5,84.3 L335.2,85.6 L335.8,86.8 L336.4,88.1 L337.0,89.3 L337.6,90.5 L338.2,91.7 L338.8,92.8 L339.5,94.0 L340.1,95.2 L340.7,96.5 L341.3,97.7 L341.9,99.0 L342.5,100.2 L343.0,101.4 L343.6,102.7 L344.2,104.0 L344.7,105.3 L345.3,106.6 L345.9,108.0 L346.5,109.3 L347.0,110.7 L347.7,112.3 L348.3,114.0 L348.9,115.6 L349.6,117.4 L350.2,119.1 L350.8,120.9 L351.5,122.6 L352.1,124.4 L352.7,126.2 L353.4,128.0 L353.9,129.7 L354.5,131.2 L355.1,132.8 L355.7,134.4 L356.3,136.0 L356.9,137.6 L357.4,139.4 L358.0,141.2 L358.6,143.2 L359.2,145.3 L359.8,147.9 L360.5,150.9 L361.1,154.1 L361.7,157.5 L362.4,161.0 L363.0,164.3 L363.6,167.7 L364.2,171.4 L364.8,174.9 L365.4,178.2 L366.0,180.9 L366.7,183.1 L367.3,184.9 L367.9,186.6 L368.6,188.5 L369.1,190.5 L369.7,192.7 L370.2,194.9 L370.8,197.1 L371.3,199.0 L371.8,200.6 L372.4,202.0 L372.9,203.3 L373.4,204.3 L373.9,204.8 L374.5,205.0 L375.1,205.2 L375.6,205.3 L376.2,205.4 L376.8,205.5 L377.4,205.5 L378.0,205.5 L378.6,205.4 L379.2,205.2 L379.8,205.1 L380.4,204.9 L381.0,204.7 L381.6,204.5 L382.1,204.3 L382.7,204.1 L383.3,204.0 L383.9,203.8 L384.5,203.8 L385.1,203.7 L385.8,203.7 L386.4,203.6 L387.0,203.6 L387.6,203.5 L388.2,203.5 L388.9,203.5 L389.5,203.4 L390.1,203.4 L390.7,203.4 L391.3,203.4 L391.9,203.4 L392.5,203.5 L393.1,203.5 L393.7,203.6 L394.3,203.7 L394.9,203.9 L395.5,204.1 L396.1,204.2 L396.7,204.4 L397.3,204.7 L397.8,204.9 L398.4,205.1 L399.1,205.5 L399.7,206.2 L400.3,207.0 L400.9,208.0 L401.5,209.2 L402.2,210.4 L402.8,211.8 L403.4,213.1 L404.0,214.5 L404.6,216.1 L405.3,218.1 L405.9,220.3 L406.5,222.4 L407.2,224.4 L407.8,225.9 L408.4,227.1 L409.0,228.3 L409.6,229.4 L410.2,230.2 L410.8,230.9 L411.4,231.1 L412.0,230.6 L412.6,229.3 L413.3,227.6 L413.9,225.9 L414.4,224.3 L415.0,222.5 L415.5,220.5 L416.1,218.4 L416.6,216.4 L417.2,214.5 L417.8,212.6 L418.3,210.6 L418.9,208.7 L419.5,206.8 L420.0,205.0 L420.6,203.3 L421.2,201.9 L421.7,200.6 L422.4,199.5 L423.0,198.4 L423.6,197.3 L424.3,196.3 L424.9,195.4 L425.5,194.6 L426.2,193.8 L426.8,193.2 L427.4,192.7 L428.1,192.3 L428.7,192.1 L429.3,191.8 L429.9,191.5 L430.6,191.3 L431.2,191.0 L431.8,190.8 L432.4,190.6 L433.0,190.4 L433.7,190.2 L434.3,190.0 L434.9,189.8 L435.5,189.7 L436.2,189.5 L436.8,189.4 L437.4,189.3 L438.0,189.2 L438.6,189.1 L439.3,189.0 L439.9,189.0 L440.5,188.9 L441.1,188.9 L441.7,188.9 L442.4,188.9 L443.0,188.9 L443.6,189.0 L444.2,189.0 L444.8,189.1 L445.4,189.2 L446.0,189.3 L446.7,189.4 L447.3,189.5 L447.9,189.6 L448.5,189.7 L449.1,189.9 L449.7,190.0 L450.3,190.2 L450.9,190.3 L451.6,190.5 L452.2,190.6 L452.8,190.8 L453.4,191.0 L454.0,191.2 L454.7,191.4 L455.3,191.7 L455.9,192.0 L456.6,192.3 L457.2,192.6 L457.8,193.0 L458.5,193.4 L459.1,193.8 L459.7,194.3 L460.4,194.7 L461.0,195.1 L461.6,195.6 L462.3,196.1 L462.9,196.5 L463.5,197.0 L464.2,197.4 L464.8,197.9 L465.4,198.3 L466.1,198.8 L466.7,199.3 L467.3,199.8 L468.0,200.3 L468.6,200.8 L469.2,201.3 L469.9,201.9 L470.5,202.4 L471.1,203.0 L471.8,203.5 L472.4,204.1 L473.0,204.6 L473.7,205.1 L474.3,205.7 L474.9,206.2 L475.6,206.7 L476.2,207.2 L476.8,207.7 L477.4,208.2 L478.1,208.7 L478.7,209.2 L479.3,209.6 L479.9,210.1 L480.6,210.6 L481.2,211.1 L481.8,211.5 L482.5,212.0 L483.1,212.5 L483.7,212.9 L484.3,213.4 L485.0,213.9 L485.6,214.3 L486.2,214.8 L486.8,215.3 L487.5,215.7 L488.1,216.2 L488.7,216.7 L489.3,217.2 L489.9,217.7 L490.5,218.2 L491.1,218.8 L491.7,219.3 L492.3,219.9 L492.9,220.4 L493.5,220.9 L494.1,221.5 L494.7,222.0 L495.4,222.4 L496.0,222.9 L496.6,223.3 L497.2,223.7 L497.8,224.0 L498.4,224.3 L499.0,224.5 L499.6,224.7 L500.2,224.9 L500.9,225.1 L501.5,225.3 L502.1,225.5 L502.8,225.7 L503.4,225.9 L504.0,226.1 L504.7,226.2 L505.3,226.4 L505.9,226.6 L506.6,226.7 L507.2,226.8 L507.8,227.0 L508.5,227.1 L509.1,227.2 L509.7,227.3 L510.4,227.4 L511.0,227.4 L511.6,227.5 L512.3,227.6 L512.9,227.6 L513.5,227.6 L514.2,227.6" fill="none" stroke="#10eef0" stroke-width="1.5" stroke-dasharray="1.2 1.2" clip-path="url(#c)"/>
<path d="M83.65,318.22v-5M83.65,7.0v5M134.30,318.22v-5M134.30,7.0v5M184.95,318.22v-5M184.95,7.0v5M235.60,318.22v-5M235.60,7.0v5M286.25,318.22v-5M286.25,7.0v5M336.90,318.22v-5M336.90,7.0v5M387.55,318.22v-5M387.55,7.0v5M438.20,318.22v-5M438.20,7.0v5M488.85,318.22v-5M488.85,7.0v5M33.0,41.58h5M539.50,41.58h-5M33.0,76.16h5M539.50,76.16h-5M33.0,110.74h5M539.50,110.74h-5M33.0,145.32h5M539.50,145.32h-5M33.0,179.90h5M539.50,179.90h-5M33.0,214.48h5M539.50,214.48h-5M33.0,249.06h5M539.50,249.06h-5M33.0,283.64h5M539.50,283.64h-5" class="ax"/>
<rect x="33.0" y="7.0" width="506.50" height="311.22" class="ax"/>
<text x="33.00" y="330.6" class="tk" text-anchor="middle">-100</text>
<text x="83.65" y="330.6" class="tk" text-anchor="middle">-80</text>
<text x="134.30" y="330.6" class="tk" text-anchor="middle">-60</text>
<text x="184.95" y="330.6" class="tk" text-anchor="middle">-40</text>
<text x="235.60" y="330.6" class="tk" text-anchor="middle">-20</text>
<text x="286.25" y="330.6" class="tk" text-anchor="middle">0</text>
<text x="336.90" y="330.6" class="tk" text-anchor="middle">20</text>
<text x="387.55" y="330.6" class="tk" text-anchor="middle">40</text>
<text x="438.20" y="330.6" class="tk" text-anchor="middle">60</text>
<text x="488.85" y="330.6" class="tk" text-anchor="middle">80</text>
<text x="539.50" y="330.6" class="tk" text-anchor="middle">100</text>
<text x="29.9" y="10.20" class="tk" text-anchor="end">10</text>
<text x="29.9" y="44.78" class="tk" text-anchor="end">0</text>
<text x="29.9" y="79.36" class="tk" text-anchor="end">-10</text>
<text x="29.9" y="113.94" class="tk" text-anchor="end">-20</text>
<text x="29.9" y="148.52" class="tk" text-anchor="end">-30</text>
<text x="29.9" y="183.10" class="tk" text-anchor="end">-40</text>
<text x="29.9" y="217.68" class="tk" text-anchor="end">-50</text>
<text x="29.9" y="252.26" class="tk" text-anchor="end">-60</text>
<text x="29.9" y="286.84" class="tk" text-anchor="end">-70</text>
<text x="29.9" y="321.42" class="tk" text-anchor="end">-80</text>
<text x="285.5" y="342.6" class="tl" text-anchor="middle">Phi (Degree)</text>
<text transform="translate(11.2,162) rotate(-90)" class="tl" text-anchor="middle">Normalized Electric Field Pattern (dBs)</text>
<rect x="361.5" y="7.5" width="177.0" height="99.3" fill="#fff" stroke="#8c8c8c" stroke-width="1"/>
<line x1="364" y1="15.30" x2="389" y2="15.30" stroke="#111111" stroke-width="1.35"/>
<text x="391" y="19.00" class="tl">Desired Pattern of 2x2 Planar Array</text>
<line x1="364" y1="27.36" x2="389" y2="27.36" stroke="#ff1a1a" stroke-width="1.4" stroke-dasharray="1.1 1.3"/>
<text x="391" y="31.06" class="tl">Deformed Pattern</text>
<line x1="364" y1="39.42" x2="389" y2="39.42" stroke="#ff10ff" stroke-width="1.3" stroke-dasharray="6 3.8"/>
<text x="391" y="43.12" class="tl">Cylindrical Pattern at r=30cm</text>
<line x1="364" y1="51.48" x2="389" y2="51.48" stroke="#7a2c8c" stroke-width="1.3" stroke-dasharray="4.7 2.15 1 2.15"/>
<text x="391" y="55.18" class="tl">Spherical Pattern at r=30cm</text>
<line x1="364" y1="63.54" x2="389" y2="63.54" stroke="#22ee22" stroke-width="1.3" stroke-dasharray="6 3.8"/>
<text x="391" y="67.24" class="tl">Cylindrical Pattern at r=25cm</text>
<line x1="364" y1="75.60" x2="389" y2="75.60" stroke="#e8872a" stroke-width="1.3" stroke-dasharray="4.7 2.15 1 2.15"/>
<text x="391" y="79.30" class="tl">Spherical Pattern at r=25cm</text>
<line x1="364" y1="87.66" x2="389" y2="87.66" stroke="#4646ff" stroke-width="1.4" stroke-dasharray="1.1 1.3"/>
<text x="391" y="91.36" class="tl">Cylindrical Pattern at r=20cm</text>
<line x1="364" y1="99.72" x2="389" y2="99.72" stroke="#10eef0" stroke-width="1.5" stroke-dasharray="1.2 1.2"/>
<text x="391" y="103.42" class="tl">Spherical Pattern at r=20cm</text>
</svg>
</body></html>
